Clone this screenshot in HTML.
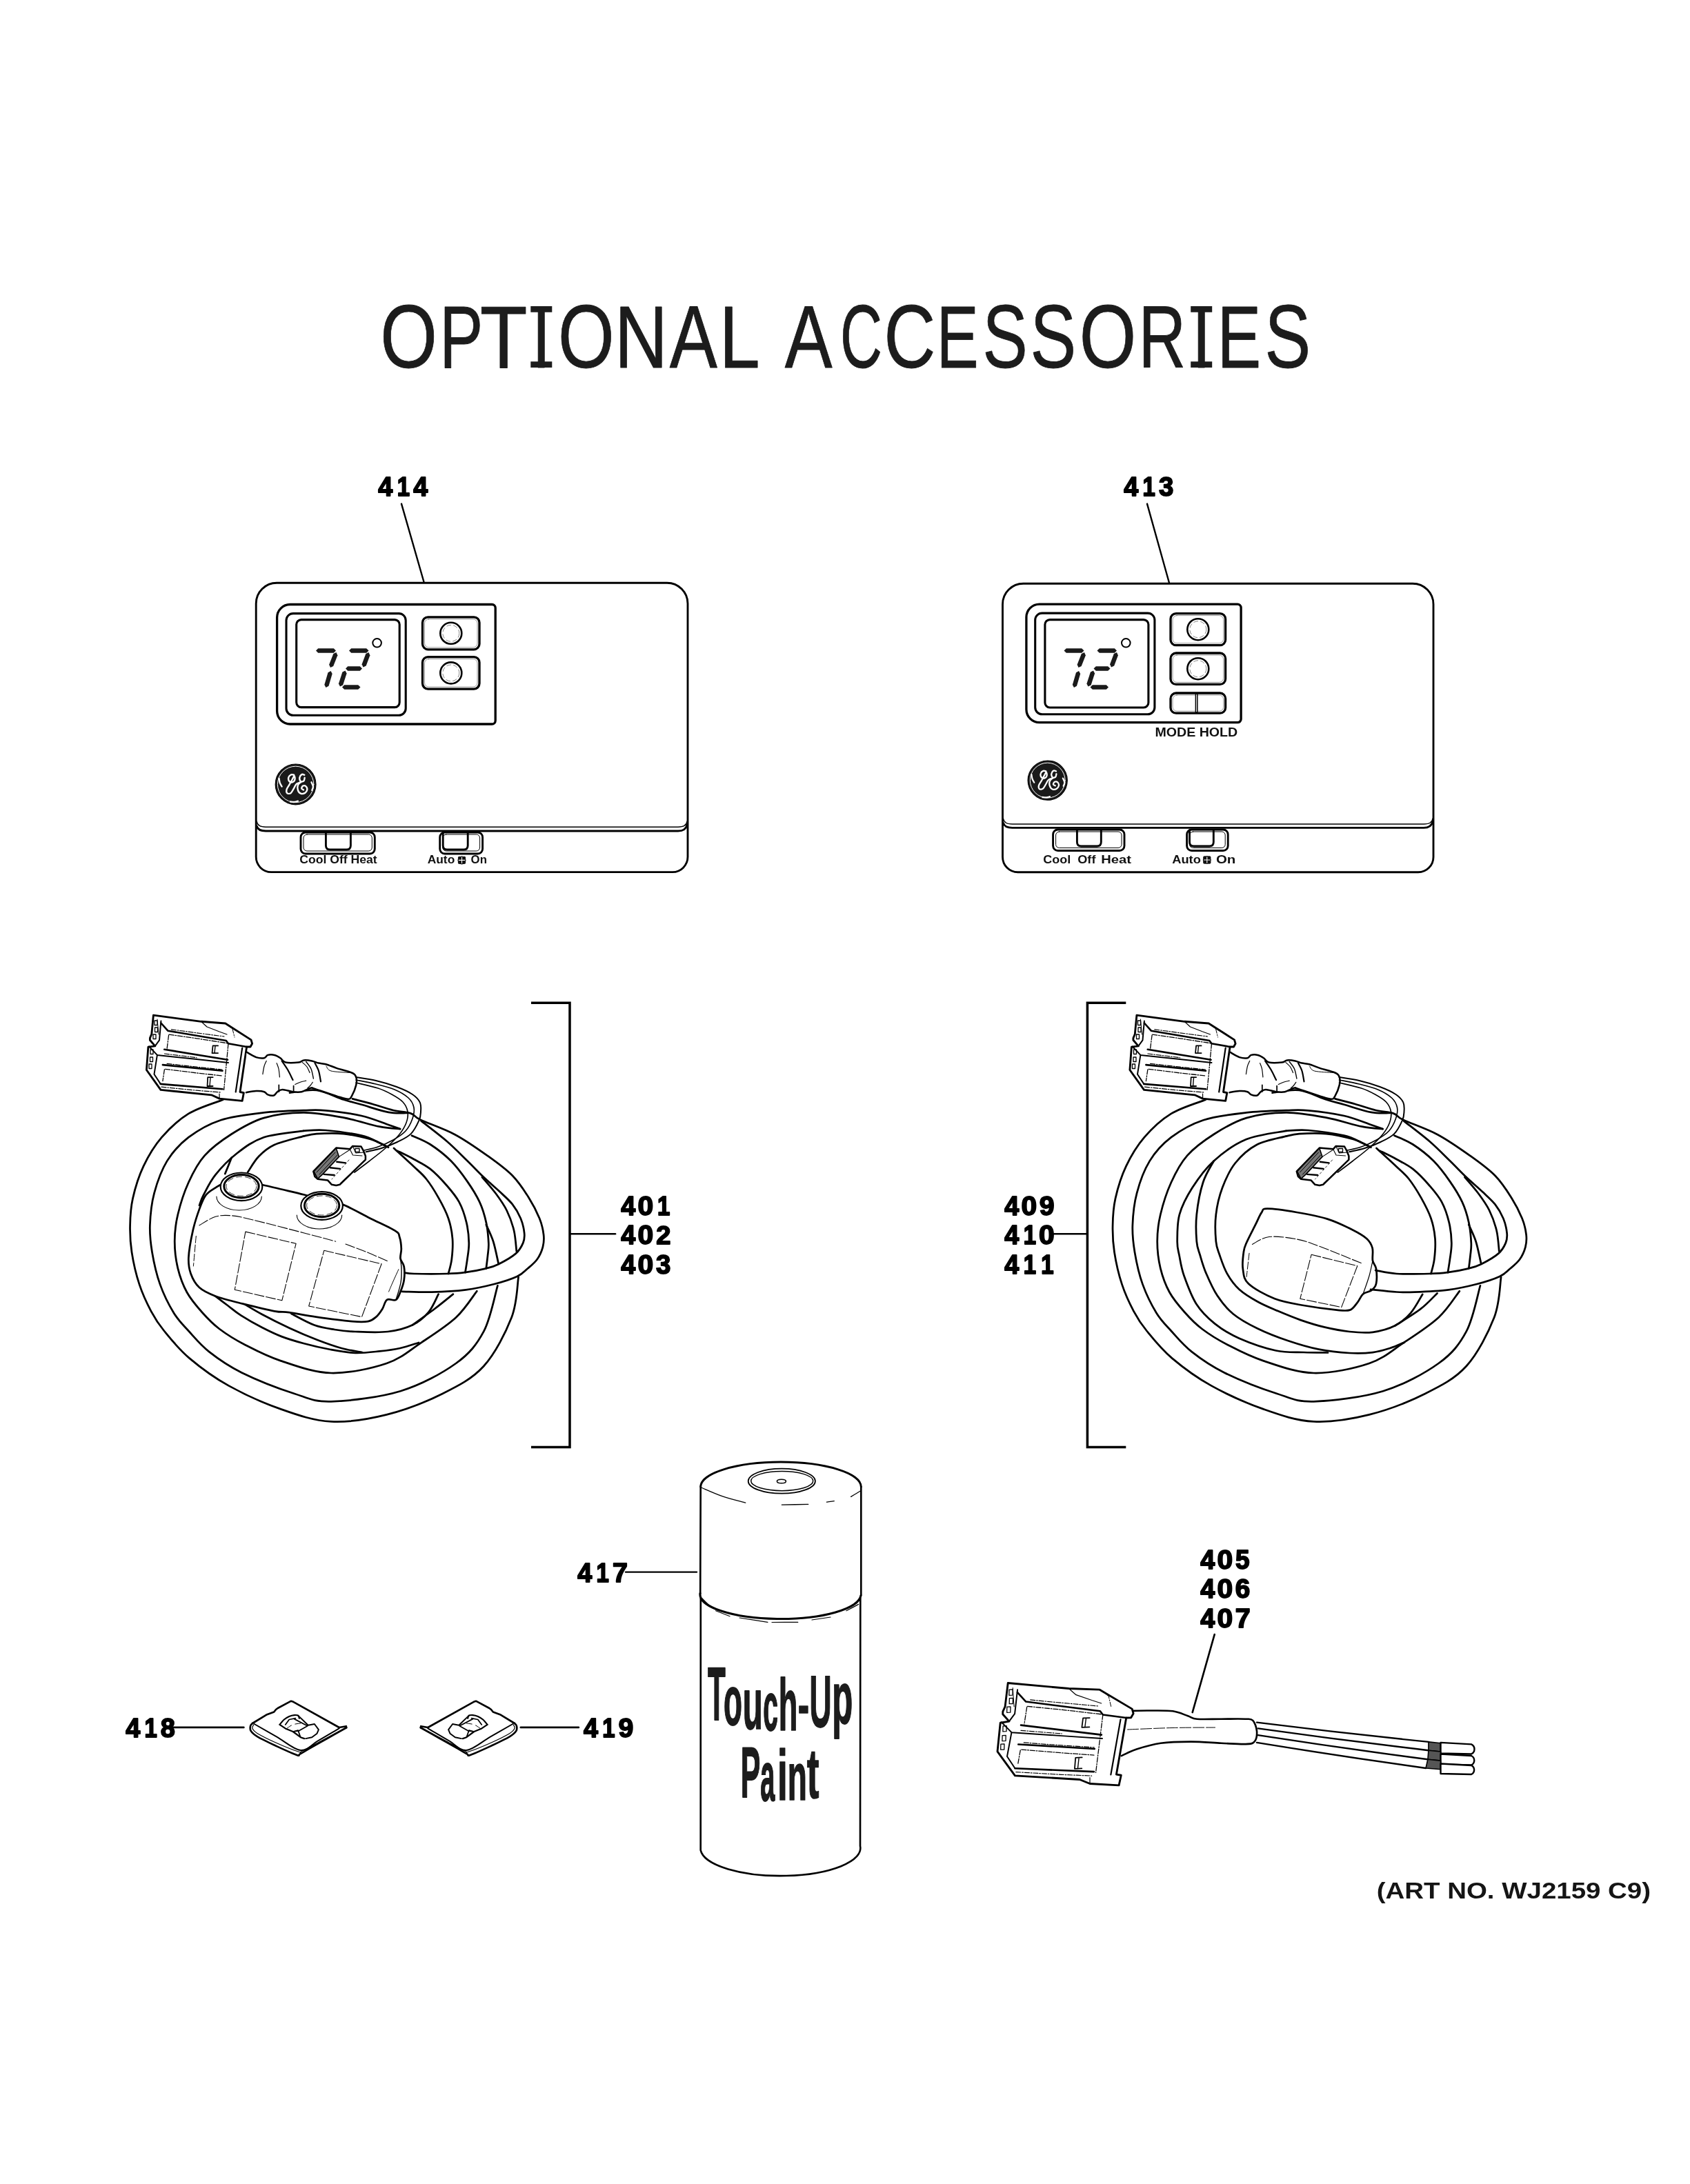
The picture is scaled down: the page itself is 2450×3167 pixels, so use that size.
<!DOCTYPE html>
<html><head><meta charset="utf-8"><style>
html,body{margin:0;padding:0;background:#fff;}
svg{display:block;}
.ns *{vector-effect:non-scaling-stroke;}
text{font-family:"Liberation Sans",sans-serif;}
</style></head><body>
<svg width="2450" height="3167" viewBox="0 0 2450 3167" stroke-linejoin="round" stroke-linecap="round">
<defs><filter id="nolcd" x="-20%" y="-20%" width="140%" height="140%"><feOffset dx="0" dy="0"/></filter></defs>
<rect width="2450" height="3167" fill="#fff"/>
<g aria-label="OPTIONAL ACCESSORIES">
<text font-family="Liberation Sans" font-weight="normal" font-size="2048" fill="#1c1c1c" stroke="#1c1c1c" stroke-width="14.0" stroke-linejoin="round" filter="url(#nolcd)" transform="matrix(0.051860,0,0,0.063034,551.37,532.84)">O</text>
<text font-family="Liberation Sans" font-weight="normal" font-size="2048" fill="#1c1c1c" stroke="#1c1c1c" stroke-width="14.9" stroke-linejoin="round" filter="url(#nolcd)" transform="matrix(0.046147,0,0,0.062598,637.25,532.60)">P</text>
<text font-family="Liberation Sans" font-weight="normal" font-size="2048" fill="#1c1c1c" stroke="#1c1c1c" stroke-width="13.6" stroke-linejoin="round" filter="url(#nolcd)" transform="matrix(0.055009,0,0,0.062598,695.87,532.60)">T</text>
<text font-family="Liberation Sans" font-weight="normal" font-size="2048" fill="#1c1c1c" stroke="#1c1c1c" stroke-width="14.6" stroke-linejoin="round" filter="url(#nolcd)" transform="matrix(0.048168,0,0,0.062598,771.10,532.60)">I</text>
<text font-family="Liberation Sans" font-weight="normal" font-size="2048" fill="#1c1c1c" stroke="#1c1c1c" stroke-width="14.1" stroke-linejoin="round" filter="url(#nolcd)" transform="matrix(0.051216,0,0,0.063034,809.03,532.84)">O</text>
<text font-family="Liberation Sans" font-weight="normal" font-size="2048" fill="#1c1c1c" stroke="#1c1c1c" stroke-width="14.0" stroke-linejoin="round" filter="url(#nolcd)" transform="matrix(0.052010,0,0,0.062598,890.96,532.60)">N</text>
<text font-family="Liberation Sans" font-weight="normal" font-size="2048" fill="#1c1c1c" stroke="#1c1c1c" stroke-width="14.2" stroke-linejoin="round" filter="url(#nolcd)" transform="matrix(0.050589,0,0,0.062598,970.70,532.60)">A</text>
<text font-family="Liberation Sans" font-weight="normal" font-size="2048" fill="#1c1c1c" stroke="#1c1c1c" stroke-width="14.1" stroke-linejoin="round" filter="url(#nolcd)" transform="matrix(0.051717,0,0,0.062598,1042.71,532.60)">L</text>
<text font-family="Liberation Sans" font-weight="normal" font-size="2048" fill="#1c1c1c" stroke="#1c1c1c" stroke-width="14.2" stroke-linejoin="round" filter="url(#nolcd)" transform="matrix(0.050368,0,0,0.062598,1137.70,532.60)">A</text>
<text font-family="Liberation Sans" font-weight="normal" font-size="2048" fill="#1c1c1c" stroke="#1c1c1c" stroke-width="15.7" stroke-linejoin="round" filter="url(#nolcd)" transform="matrix(0.041249,0,0,0.063034,1218.11,532.84)">C</text>
<text font-family="Liberation Sans" font-weight="normal" font-size="2048" fill="#1c1c1c" stroke="#1c1c1c" stroke-width="14.2" stroke-linejoin="round" filter="url(#nolcd)" transform="matrix(0.050578,0,0,0.063034,1281.54,532.84)">C</text>
<text font-family="Liberation Sans" font-weight="normal" font-size="2048" fill="#1c1c1c" stroke="#1c1c1c" stroke-width="15.1" stroke-linejoin="round" filter="url(#nolcd)" transform="matrix(0.044595,0,0,0.062598,1357.81,532.60)">E</text>
<text font-family="Liberation Sans" font-weight="normal" font-size="2048" fill="#1c1c1c" stroke="#1c1c1c" stroke-width="14.6" stroke-linejoin="round" filter="url(#nolcd)" transform="matrix(0.047752,0,0,0.063034,1424.46,532.84)">S</text>
<text font-family="Liberation Sans" font-weight="normal" font-size="2048" fill="#1c1c1c" stroke="#1c1c1c" stroke-width="14.4" stroke-linejoin="round" filter="url(#nolcd)" transform="matrix(0.048770,0,0,0.063034,1493.56,532.84)">S</text>
<text font-family="Liberation Sans" font-weight="normal" font-size="2048" fill="#1c1c1c" stroke="#1c1c1c" stroke-width="14.0" stroke-linejoin="round" filter="url(#nolcd)" transform="matrix(0.051788,0,0,0.063034,1564.68,532.84)">O</text>
<text font-family="Liberation Sans" font-weight="normal" font-size="2048" fill="#1c1c1c" stroke="#1c1c1c" stroke-width="14.8" stroke-linejoin="round" filter="url(#nolcd)" transform="matrix(0.046382,0,0,0.062598,1650.41,532.60)">R</text>
<text font-family="Liberation Sans" font-weight="normal" font-size="2048" fill="#1c1c1c" stroke="#1c1c1c" stroke-width="14.6" stroke-linejoin="round" filter="url(#nolcd)" transform="matrix(0.048168,0,0,0.062598,1728.00,532.60)">I</text>
<text font-family="Liberation Sans" font-weight="normal" font-size="2048" fill="#1c1c1c" stroke="#1c1c1c" stroke-width="14.8" stroke-linejoin="round" filter="url(#nolcd)" transform="matrix(0.046396,0,0,0.062598,1764.71,532.60)">E</text>
<text font-family="Liberation Sans" font-weight="normal" font-size="2048" fill="#1c1c1c" stroke="#1c1c1c" stroke-width="14.4" stroke-linejoin="round" filter="url(#nolcd)" transform="matrix(0.048770,0,0,0.063034,1833.56,532.84)">S</text>
<path d="M769.3,444.0H800.3V452.8H769.3Z M769.3,524.2H800.3V533.0H769.3Z M1726.2,444.0H1757.2V452.8H1726.2Z M1726.2,524.2H1757.2V533.0H1726.2Z" fill="#1c1c1c"/>
</g>
<path d="M401.2,845.3 L967.0,845.3 A30,30 0 0 1 997.0,875.3 L997.0,1242.6 A22,22 0 0 1 975.0,1264.6 L393.2,1264.6 A22,22 0 0 1 371.2,1242.6 L371.2,875.3 A30,30 0 0 1 401.2,845.3Z" fill="none" stroke="#000" stroke-width="2.86" />
<path d="M372.2,1191.2 Q373.2,1199.2 385.2,1199.2 L983.0,1199.2 Q995.0,1199.2 996.0,1191.2" fill="none" stroke="#000" stroke-width="1.40" />
<path d="M372.2,1198.0 Q374.2,1205.0 385.2,1205.0 L983.0,1205.0 Q994.0,1205.0 996.0,1196.0" fill="none" stroke="#000" stroke-width="2.86" />
<path d="M420.6,876.5 L713.2,876.5 A5,5 0 0 1 718.2,881.5 L718.2,1045.0 A5,5 0 0 1 713.2,1050.0 L420.6,1050.0 A19,19 0 0 1 401.6,1031.0 L401.6,895.5 A19,19 0 0 1 420.6,876.5Z" fill="none" stroke="#000" stroke-width="3.30" />
<path d="M425.0,889.6 L578.2,889.6 A10,10 0 0 1 588.2,899.6 L588.2,1027.3 A10,10 0 0 1 578.2,1037.3 L425.0,1037.3 A10,10 0 0 1 415.0,1027.3 L415.0,899.6 A10,10 0 0 1 425.0,889.6Z" fill="none" stroke="#000" stroke-width="3.08" />
<path d="M436.7,898.6 L572.2,898.6 A7,7 0 0 1 579.2,905.6 L579.2,1018.6 A7,7 0 0 1 572.2,1025.6 L436.7,1025.6 A7,7 0 0 1 429.7,1018.6 L429.7,905.6 A7,7 0 0 1 436.7,898.6Z" fill="none" stroke="#000" stroke-width="3.08" />
<path d="M458.0,943.5 L461.2,946.8 L483.8,946.8 L487.0,943.5 L483.8,940.2 L461.2,940.2Z" fill="#1a1a1a"/>
<path d="M487.5,946.0 L483.3,947.9 L477.1,963.8 L479.0,968.0 L483.2,966.1 L489.4,950.2Z" fill="#1a1a1a"/>
<path d="M479.5,973.0 L475.5,975.2 L470.3,993.0 L472.5,997.0 L476.5,994.8 L481.7,977.0Z" fill="#1a1a1a"/>
<path d="M506.0,943.5 L509.2,946.8 L531.2,946.8 L534.5,943.5 L531.2,940.2 L509.2,940.2Z" fill="#1a1a1a"/>
<path d="M534.5,946.0 L530.3,947.9 L524.6,963.3 L526.5,967.5 L530.7,965.6 L536.4,950.2Z" fill="#1a1a1a"/>
<path d="M501.0,969.5 L504.2,972.8 L521.8,972.8 L525.0,969.5 L521.8,966.2 L504.2,966.2Z" fill="#1a1a1a"/>
<path d="M500.5,972.5 L496.4,974.6 L490.9,991.4 L493.0,995.5 L497.1,993.4 L502.6,976.6Z" fill="#1a1a1a"/>
<path d="M496.0,996.5 L499.2,999.8 L519.2,999.8 L522.5,996.5 L519.2,993.2 L499.2,993.2Z" fill="#1a1a1a"/>
<circle cx="546.6" cy="932.3" r="6.3" fill="none" stroke="#000" stroke-width="2"/>
<path d="M620.5,894.8 L687.0,894.8 A8,8 0 0 1 695.0,902.8 L695.0,933.8 A8,8 0 0 1 687.0,941.8 L620.5,941.8 A8,8 0 0 1 612.5,933.8 L612.5,902.8 A8,8 0 0 1 620.5,894.8Z" fill="none" stroke="#000" stroke-width="3.30" />
<path d="M621.5,897.8 L686.0,897.8 A6,6 0 0 1 692.0,903.8 L692.0,932.8 A6,6 0 0 1 686.0,938.8 L621.5,938.8 A6,6 0 0 1 615.5,932.8 L615.5,903.8 A6,6 0 0 1 621.5,897.8Z" fill="none" stroke="#000" stroke-width="0.80" stroke-opacity="0.5"/>
<circle cx="653.8" cy="918.3" r="15.5" fill="none" stroke="#000" stroke-width="2.6"/>
<circle cx="653.8" cy="918.3" r="12" fill="none" stroke="#000" stroke-width="0.8" stroke-dasharray="6 4" stroke-opacity="0.6"/>
<path d="M620.5,952.6 L687.0,952.6 A8,8 0 0 1 695.0,960.6 L695.0,991.1 A8,8 0 0 1 687.0,999.1 L620.5,999.1 A8,8 0 0 1 612.5,991.1 L612.5,960.6 A8,8 0 0 1 620.5,952.6Z" fill="none" stroke="#000" stroke-width="3.30" />
<path d="M621.5,955.6 L686.0,955.6 A6,6 0 0 1 692.0,961.6 L692.0,990.1 A6,6 0 0 1 686.0,996.1 L621.5,996.1 A6,6 0 0 1 615.5,990.1 L615.5,961.6 A6,6 0 0 1 621.5,955.6Z" fill="none" stroke="#000" stroke-width="0.80" stroke-opacity="0.5"/>
<circle cx="653.8" cy="975.9" r="15.5" fill="none" stroke="#000" stroke-width="2.6"/>
<circle cx="653.8" cy="975.9" r="12" fill="none" stroke="#000" stroke-width="0.8" stroke-dasharray="6 4" stroke-opacity="0.6"/>
<circle cx="428.6" cy="1137.4" r="29.4" fill="#1a1a1a" stroke="#000" stroke-width="1.2"/>
<circle cx="428.6" cy="1137.4" r="26.2" fill="none" stroke="#fff" stroke-width="1.0"/>
<path d="M426.2,1123.7 C425.5,1123.7 423.4,1122.8 422.1,1123.3 C420.8,1123.9 418.9,1125.4 418.4,1127.0 C417.9,1128.6 418.3,1131.5 419.2,1132.7 C420.1,1133.9 422.3,1134.7 423.7,1134.3 C425.1,1134.0 426.9,1132.2 427.4,1130.7 C427.9,1129.1 427.2,1125.0 426.6,1124.9 C425.9,1124.9 424.9,1128.1 423.7,1130.3 C422.5,1132.4 421.0,1135.2 419.6,1137.6 C418.3,1140.1 416.1,1142.8 415.5,1145.0 C415.0,1147.1 415.3,1149.4 416.4,1150.3 C417.4,1151.1 420.0,1151.1 421.7,1149.9 C423.3,1148.6 424.8,1145.1 426.2,1142.9 C427.5,1140.7 428.2,1138.2 429.8,1136.8 C431.5,1135.4 434.9,1134.7 436.0,1134.3" fill="none" stroke="#fff" stroke-width="2.4" stroke-linecap="round"/>
<path d="M441.3,1123.7 C440.6,1123.6 438.7,1122.2 437.6,1122.9 C436.4,1123.6 434.6,1126.1 434.3,1127.8 C434.0,1129.5 434.9,1132.4 436.0,1133.1 C437.0,1133.9 439.5,1133.2 440.4,1132.3 C441.4,1131.4 441.5,1128.6 441.7,1127.8" fill="none" stroke="#fff" stroke-width="2.4" stroke-linecap="round"/>
<path d="M436.0,1133.9 C435.3,1134.7 432.5,1136.4 431.9,1138.4 C431.2,1140.4 431.2,1143.7 431.9,1145.8 C432.5,1147.8 434.2,1150.0 436.0,1150.7 C437.7,1151.4 440.5,1150.8 442.1,1149.9 C443.6,1148.9 445.1,1146.6 445.3,1145.0 C445.5,1143.3 444.3,1140.9 443.3,1140.1 C442.3,1139.2 440.2,1139.1 439.2,1139.6 C438.2,1140.2 437.0,1142.4 437.2,1143.3 C437.3,1144.3 439.6,1145.0 440.0,1145.4" fill="none" stroke="#fff" stroke-width="2.4" stroke-linecap="round"/>
<path d="M404.5,1128.6 C404.7,1129.7 405.1,1133.2 405.7,1135.2 C406.4,1137.1 408.1,1139.6 408.6,1140.5" fill="none" stroke="#fff" stroke-width="2.4" stroke-linecap="round"/>
<path d="M451.5,1134.3 C451.9,1135.4 453.8,1138.6 453.9,1140.5 C454.1,1142.4 452.6,1144.9 452.3,1145.8" fill="none" stroke="#fff" stroke-width="2.4" stroke-linecap="round"/>
<path d="M421.2,1162.5 C422.2,1162.6 425.2,1163.1 427.0,1162.9 C428.7,1162.8 431.1,1161.9 431.9,1161.7" fill="none" stroke="#fff" stroke-width="2.4" stroke-linecap="round"/>
<path d="M443.0,1207.0 L536.3,1207.0 A7,7 0 0 1 543.3,1214.0 L543.3,1231.0 A7,7 0 0 1 536.3,1238.0 L443.0,1238.0 A7,7 0 0 1 436.0,1231.0 L436.0,1214.0 A7,7 0 0 1 443.0,1207.0Z" fill="none" stroke="#000" stroke-width="2.86" />
<path d="M445.0,1210.0 L534.3,1210.0 A5,5 0 0 1 539.3,1215.0 L539.3,1229.0 A5,5 0 0 1 534.3,1234.0 L445.0,1234.0 A5,5 0 0 1 440.0,1229.0 L440.0,1215.0 A5,5 0 0 1 445.0,1210.0Z" fill="none" stroke="#000" stroke-width="1.00" />
<path d="M472.4,1208.0 L472.4,1226.0 Q472.4,1232.0 478.4,1232.0 L502.4,1232.0 Q508.4,1232.0 508.4,1226.0 L508.4,1208.0" fill="none" stroke="#000" stroke-width="2.86" />
<path d="M644.7,1207.0 L692.6,1207.0 A7,7 0 0 1 699.6,1214.0 L699.6,1231.0 A7,7 0 0 1 692.6,1238.0 L644.7,1238.0 A7,7 0 0 1 637.7,1231.0 L637.7,1214.0 A7,7 0 0 1 644.7,1207.0Z" fill="none" stroke="#000" stroke-width="2.86" />
<path d="M646.7,1210.0 L690.6,1210.0 A5,5 0 0 1 695.6,1215.0 L695.6,1229.0 A5,5 0 0 1 690.6,1234.0 L646.7,1234.0 A5,5 0 0 1 641.7,1229.0 L641.7,1215.0 A5,5 0 0 1 646.7,1210.0Z" fill="none" stroke="#000" stroke-width="1.00" />
<path d="M642.2,1208.0 L642.2,1226.0 Q642.2,1232.0 648.2,1232.0 L672.2,1232.0 Q678.2,1232.0 678.2,1226.0 L678.2,1208.0" fill="none" stroke="#000" stroke-width="2.86" />
<text font-family="Liberation Sans" font-weight="bold" font-size="2048" fill="#111" style="font-kerning:none;white-space:pre" filter="url(#nolcd)" transform="matrix(0.008609,0,0,0.008375,434.18,1252.40)">Cool Off Heat</text>
<text font-family="Liberation Sans" font-weight="bold" font-size="2048" fill="#111" style="font-kerning:none;white-space:pre" filter="url(#nolcd)" transform="matrix(0.008495,0,0,0.008375,619.67,1252.40)">Auto</text>
<circle cx="669.5" cy="1247.4" r="6.0" fill="#111"/>
<circle cx="672.9" cy="1250.8" r="2.3" fill="#111"/>
<circle cx="666.1" cy="1250.8" r="2.3" fill="#111"/>
<circle cx="666.1" cy="1244.0" r="2.3" fill="#111"/>
<circle cx="672.9" cy="1244.0" r="2.3" fill="#111"/>
<path d="M665.3,1247.4 H673.7 M669.5,1243.2 V1251.6" stroke="#fff" stroke-width="1.1"/>
<text font-family="Liberation Sans" font-weight="bold" font-size="2048" fill="#111" style="font-kerning:none;white-space:pre" filter="url(#nolcd)" transform="matrix(0.008204,0,0,0.008375,682.61,1252.40)">On</text>
<path d="M582.0,730.6 L614.4,843.5" fill="none" stroke="#000" stroke-width="2.42" />
<text font-family="Liberation Sans" font-weight="bold" font-size="2048" fill="#000" stroke="#000" stroke-width="97.3" stroke-linejoin="round" filter="url(#nolcd)" transform="matrix(0.018414,0,0,0.018595,548.33,718.90)">4</text>
<text font-family="Liberation Sans" font-weight="bold" font-size="2048" fill="#000" stroke="#000" stroke-width="104.2" stroke-linejoin="round" filter="url(#nolcd)" transform="matrix(0.016055,0,0,0.018595,575.63,718.90)">1</text>
<text font-family="Liberation Sans" font-weight="bold" font-size="2048" fill="#000" stroke="#000" stroke-width="97.3" stroke-linejoin="round" filter="url(#nolcd)" transform="matrix(0.018414,0,0,0.018595,599.33,718.90)">4</text>
<path d="M1483.5,846.2 L2048.0,846.2 A30,30 0 0 1 2078.0,876.2 L2078.0,1242.8 A22,22 0 0 1 2056.0,1264.8 L1475.5,1264.8 A22,22 0 0 1 1453.5,1242.8 L1453.5,876.2 A30,30 0 0 1 1483.5,846.2Z" fill="none" stroke="#000" stroke-width="2.86" />
<path d="M1454.5,1187.0 Q1455.5,1195.0 1467.5,1195.0 L2064.0,1195.0 Q2076.0,1195.0 2077.0,1187.0" fill="none" stroke="#000" stroke-width="1.40" />
<path d="M1454.5,1193.4 Q1456.5,1200.4 1467.5,1200.4 L2064.0,1200.4 Q2075.0,1200.4 2077.0,1191.4" fill="none" stroke="#000" stroke-width="2.86" />
<path d="M1506.9,876.1 L1794.1,876.1 A5,5 0 0 1 1799.1,881.1 L1799.1,1042.7 A5,5 0 0 1 1794.1,1047.7 L1506.9,1047.7 A19,19 0 0 1 1487.9,1028.7 L1487.9,895.1 A19,19 0 0 1 1506.9,876.1Z" fill="none" stroke="#000" stroke-width="3.30" />
<path d="M1510.7,889.1 L1663.9,889.1 A10,10 0 0 1 1673.9,899.1 L1673.9,1025.8 A10,10 0 0 1 1663.9,1035.8 L1510.7,1035.8 A10,10 0 0 1 1500.7,1025.8 L1500.7,899.1 A10,10 0 0 1 1510.7,889.1Z" fill="none" stroke="#000" stroke-width="3.08" />
<path d="M1521.9,898.6 L1657.9,898.6 A7,7 0 0 1 1664.9,905.6 L1664.9,1019.0 A7,7 0 0 1 1657.9,1026.0 L1521.9,1026.0 A7,7 0 0 1 1514.9,1019.0 L1514.9,905.6 A7,7 0 0 1 1521.9,898.6Z" fill="none" stroke="#000" stroke-width="3.08" />
<path d="M1542.5,943.5 L1545.8,946.8 L1568.2,946.8 L1571.5,943.5 L1568.2,940.2 L1545.8,940.2Z" fill="#1a1a1a"/>
<path d="M1572.0,946.0 L1567.8,947.9 L1561.6,963.8 L1563.5,968.0 L1567.7,966.1 L1573.9,950.2Z" fill="#1a1a1a"/>
<path d="M1564.0,973.0 L1560.0,975.2 L1554.8,993.0 L1557.0,997.0 L1561.0,994.8 L1566.2,977.0Z" fill="#1a1a1a"/>
<path d="M1590.5,943.5 L1593.8,946.8 L1615.8,946.8 L1619.0,943.5 L1615.8,940.2 L1593.8,940.2Z" fill="#1a1a1a"/>
<path d="M1619.0,946.0 L1614.8,947.9 L1609.1,963.3 L1611.0,967.5 L1615.2,965.6 L1620.9,950.2Z" fill="#1a1a1a"/>
<path d="M1585.5,969.5 L1588.8,972.8 L1606.2,972.8 L1609.5,969.5 L1606.2,966.2 L1588.8,966.2Z" fill="#1a1a1a"/>
<path d="M1585.0,972.5 L1580.9,974.6 L1575.4,991.4 L1577.5,995.5 L1581.6,993.4 L1587.1,976.6Z" fill="#1a1a1a"/>
<path d="M1580.5,996.5 L1583.8,999.8 L1603.8,999.8 L1607.0,996.5 L1603.8,993.2 L1583.8,993.2Z" fill="#1a1a1a"/>
<circle cx="1632.3" cy="932.3" r="6.3" fill="none" stroke="#000" stroke-width="2"/>
<path d="M1705.0,889.6 L1768.6,889.6 A8,8 0 0 1 1776.6,897.6 L1776.6,927.7 A8,8 0 0 1 1768.6,935.7 L1705.0,935.7 A8,8 0 0 1 1697.0,927.7 L1697.0,897.6 A8,8 0 0 1 1705.0,889.6Z" fill="none" stroke="#000" stroke-width="3.30" />
<path d="M1706.0,892.6 L1767.6,892.6 A6,6 0 0 1 1773.6,898.6 L1773.6,926.7 A6,6 0 0 1 1767.6,932.7 L1706.0,932.7 A6,6 0 0 1 1700.0,926.7 L1700.0,898.6 A6,6 0 0 1 1706.0,892.6Z" fill="none" stroke="#000" stroke-width="0.80" stroke-opacity="0.5"/>
<circle cx="1736.8" cy="912.7" r="15.5" fill="none" stroke="#000" stroke-width="2.6"/>
<circle cx="1736.8" cy="912.7" r="12" fill="none" stroke="#000" stroke-width="0.8" stroke-dasharray="6 4" stroke-opacity="0.6"/>
<path d="M1705.0,947.0 L1768.6,947.0 A8,8 0 0 1 1776.6,955.0 L1776.6,984.4 A8,8 0 0 1 1768.6,992.4 L1705.0,992.4 A8,8 0 0 1 1697.0,984.4 L1697.0,955.0 A8,8 0 0 1 1705.0,947.0Z" fill="none" stroke="#000" stroke-width="3.30" />
<path d="M1706.0,950.0 L1767.6,950.0 A6,6 0 0 1 1773.6,956.0 L1773.6,983.4 A6,6 0 0 1 1767.6,989.4 L1706.0,989.4 A6,6 0 0 1 1700.0,983.4 L1700.0,956.0 A6,6 0 0 1 1706.0,950.0Z" fill="none" stroke="#000" stroke-width="0.80" stroke-opacity="0.5"/>
<circle cx="1736.8" cy="969.7" r="15.5" fill="none" stroke="#000" stroke-width="2.6"/>
<circle cx="1736.8" cy="969.7" r="12" fill="none" stroke="#000" stroke-width="0.8" stroke-dasharray="6 4" stroke-opacity="0.6"/>
<path d="M1705.0,1005.0 L1768.6,1005.0 A8,8 0 0 1 1776.6,1013.0 L1776.6,1026.2 A8,8 0 0 1 1768.6,1034.2 L1705.0,1034.2 A8,8 0 0 1 1697.0,1026.2 L1697.0,1013.0 A8,8 0 0 1 1705.0,1005.0Z" fill="none" stroke="#000" stroke-width="3.30" />
<path d="M1706.0,1008.0 L1767.6,1008.0 A6,6 0 0 1 1773.6,1014.0 L1773.6,1025.2 A6,6 0 0 1 1767.6,1031.2 L1706.0,1031.2 A6,6 0 0 1 1700.0,1025.2 L1700.0,1014.0 A6,6 0 0 1 1706.0,1008.0Z" fill="none" stroke="#000" stroke-width="0.80" stroke-opacity="0.5"/>
<rect x="1732.6" y="1006.0" width="4" height="27.2" fill="#000"/>
<rect x="1734.1" y="1007.0" width="1" height="25.2" fill="#fff"/>
<text font-family="Liberation Sans" font-weight="bold" font-size="2048" fill="#111" style="font-kerning:none;white-space:pre" filter="url(#nolcd)" transform="matrix(0.009583,0,0,0.008659,1674.39,1067.70)">MODE HOLD</text>
<circle cx="1518.7" cy="1131.6" r="28.6" fill="#1a1a1a" stroke="#000" stroke-width="1.2"/>
<circle cx="1518.7" cy="1131.6" r="25.4" fill="none" stroke="#fff" stroke-width="1.0"/>
<path d="M1516.3,1118.3 C1515.7,1118.2 1513.6,1117.4 1512.3,1117.9 C1511.1,1118.4 1509.2,1119.9 1508.8,1121.5 C1508.3,1123.0 1508.7,1125.8 1509.6,1127.0 C1510.4,1128.2 1512.6,1129.0 1513.9,1128.6 C1515.3,1128.3 1517.0,1126.6 1517.5,1125.0 C1518.0,1123.5 1517.3,1119.6 1516.7,1119.5 C1516.1,1119.4 1515.1,1122.6 1513.9,1124.6 C1512.8,1126.7 1511.3,1129.4 1510.0,1131.8 C1508.6,1134.2 1506.5,1136.9 1506.0,1138.9 C1505.5,1141.0 1505.8,1143.3 1506.8,1144.1 C1507.8,1144.9 1510.4,1144.9 1511.9,1143.7 C1513.5,1142.5 1515.0,1139.1 1516.3,1137.0 C1517.6,1134.8 1518.3,1132.4 1519.9,1131.0 C1521.5,1129.6 1524.9,1129.0 1525.9,1128.6" fill="none" stroke="#fff" stroke-width="2.3" stroke-linecap="round"/>
<path d="M1531.0,1118.3 C1530.4,1118.2 1528.6,1116.8 1527.4,1117.5 C1526.3,1118.2 1524.5,1120.6 1524.3,1122.3 C1524.0,1123.9 1524.9,1126.7 1525.9,1127.4 C1526.8,1128.2 1529.3,1127.5 1530.2,1126.6 C1531.1,1125.8 1531.2,1123.0 1531.4,1122.3" fill="none" stroke="#fff" stroke-width="2.3" stroke-linecap="round"/>
<path d="M1525.9,1128.2 C1525.2,1129.0 1522.5,1130.7 1521.9,1132.6 C1521.2,1134.5 1521.2,1137.8 1521.9,1139.7 C1522.5,1141.7 1524.2,1143.8 1525.9,1144.5 C1527.5,1145.2 1530.3,1144.6 1531.8,1143.7 C1533.3,1142.8 1534.8,1140.5 1535.0,1138.9 C1535.2,1137.4 1534.0,1135.0 1533.0,1134.2 C1532.0,1133.3 1530.0,1133.3 1529.0,1133.8 C1528.0,1134.3 1526.9,1136.4 1527.0,1137.4 C1527.2,1138.3 1529.4,1139.0 1529.8,1139.3" fill="none" stroke="#fff" stroke-width="2.3" stroke-linecap="round"/>
<path d="M1495.3,1123.1 C1495.5,1124.1 1495.8,1127.5 1496.5,1129.4 C1497.1,1131.3 1498.8,1133.7 1499.2,1134.6" fill="none" stroke="#fff" stroke-width="2.3" stroke-linecap="round"/>
<path d="M1540.9,1128.6 C1541.3,1129.6 1543.2,1132.7 1543.3,1134.6 C1543.5,1136.4 1542.0,1138.9 1541.7,1139.7" fill="none" stroke="#fff" stroke-width="2.3" stroke-linecap="round"/>
<path d="M1511.5,1156.0 C1512.5,1156.1 1515.4,1156.6 1517.1,1156.4 C1518.8,1156.3 1521.1,1155.4 1521.9,1155.2" fill="none" stroke="#fff" stroke-width="2.3" stroke-linecap="round"/>
<path d="M1533.6,1203.0 L1623.0,1203.0 A7,7 0 0 1 1630.0,1210.0 L1630.0,1226.5 A7,7 0 0 1 1623.0,1233.5 L1533.6,1233.5 A7,7 0 0 1 1526.6,1226.5 L1526.6,1210.0 A7,7 0 0 1 1533.6,1203.0Z" fill="none" stroke="#000" stroke-width="2.86" />
<path d="M1535.6,1206.0 L1621.0,1206.0 A5,5 0 0 1 1626.0,1211.0 L1626.0,1224.5 A5,5 0 0 1 1621.0,1229.5 L1535.6,1229.5 A5,5 0 0 1 1530.6,1224.5 L1530.6,1211.0 A5,5 0 0 1 1535.6,1206.0Z" fill="none" stroke="#000" stroke-width="1.00" />
<path d="M1561.4,1204.0 L1561.4,1221.0 Q1561.4,1227.0 1567.4,1227.0 L1590.3,1227.0 Q1596.3,1227.0 1596.3,1221.0 L1596.3,1204.0" fill="none" stroke="#000" stroke-width="2.86" />
<path d="M1727.6,1203.0 L1773.2,1203.0 A7,7 0 0 1 1780.2,1210.0 L1780.2,1226.5 A7,7 0 0 1 1773.2,1233.5 L1727.6,1233.5 A7,7 0 0 1 1720.6,1226.5 L1720.6,1210.0 A7,7 0 0 1 1727.6,1203.0Z" fill="none" stroke="#000" stroke-width="2.86" />
<path d="M1729.6,1206.0 L1771.2,1206.0 A5,5 0 0 1 1776.2,1211.0 L1776.2,1224.5 A5,5 0 0 1 1771.2,1229.5 L1729.6,1229.5 A5,5 0 0 1 1724.6,1224.5 L1724.6,1211.0 A5,5 0 0 1 1729.6,1206.0Z" fill="none" stroke="#000" stroke-width="1.00" />
<path d="M1724.5,1204.0 L1724.5,1221.0 Q1724.5,1227.0 1730.5,1227.0 L1753.3,1227.0 Q1759.3,1227.0 1759.3,1221.0 L1759.3,1204.0" fill="none" stroke="#000" stroke-width="2.86" />
<text font-family="Liberation Sans" font-weight="bold" font-size="2048" fill="#111" style="font-kerning:none;white-space:pre" filter="url(#nolcd)" transform="matrix(0.008794,0,0,0.008375,1512.26,1252.00)">Cool</text>
<text font-family="Liberation Sans" font-weight="bold" font-size="2048" fill="#111" style="font-kerning:none;white-space:pre" filter="url(#nolcd)" transform="matrix(0.008863,0,0,0.008375,1562.26,1252.00)">Off</text>
<text font-family="Liberation Sans" font-weight="bold" font-size="2048" fill="#111" style="font-kerning:none;white-space:pre" filter="url(#nolcd)" transform="matrix(0.009867,0,0,0.008375,1596.15,1252.00)">Heat</text>
<text font-family="Liberation Sans" font-weight="bold" font-size="2048" fill="#111" style="font-kerning:none;white-space:pre" filter="url(#nolcd)" transform="matrix(0.008936,0,0,0.008375,1699.24,1252.00)">Auto</text>
<circle cx="1749.8" cy="1247.0" r="6.0" fill="#111"/>
<circle cx="1753.2" cy="1250.4" r="2.3" fill="#111"/>
<circle cx="1746.4" cy="1250.4" r="2.3" fill="#111"/>
<circle cx="1746.4" cy="1243.6" r="2.3" fill="#111"/>
<circle cx="1753.2" cy="1243.6" r="2.3" fill="#111"/>
<path d="M1745.6,1247.0 H1754.0 M1749.8,1242.8 V1251.2" stroke="#fff" stroke-width="1.1"/>
<text font-family="Liberation Sans" font-weight="bold" font-size="2048" fill="#111" style="font-kerning:none;white-space:pre" filter="url(#nolcd)" transform="matrix(0.009989,0,0,0.008375,1762.96,1252.00)">On</text>
<path d="M1663.0,730.6 L1694.8,844.5" fill="none" stroke="#000" stroke-width="2.42" />
<text font-family="Liberation Sans" font-weight="bold" font-size="2048" fill="#000" stroke="#000" stroke-width="97.3" stroke-linejoin="round" filter="url(#nolcd)" transform="matrix(0.018414,0,0,0.018595,1629.23,718.90)">4</text>
<text font-family="Liberation Sans" font-weight="bold" font-size="2048" fill="#000" stroke="#000" stroke-width="104.2" stroke-linejoin="round" filter="url(#nolcd)" transform="matrix(0.016055,0,0,0.018595,1656.53,718.90)">1</text>
<text font-family="Liberation Sans" font-weight="bold" font-size="2048" fill="#000" stroke="#000" stroke-width="95.5" stroke-linejoin="round" filter="url(#nolcd)" transform="matrix(0.018762,0,0,0.018926,1680.12,718.96)">3</text>
<path d="M770,1454.2 L826,1454.2 L826,2098.5 L770,2098.5" fill="none" stroke="#000" stroke-width="3.52" stroke-linecap="butt" stroke-linejoin="miter"/>
<path d="M826.6,1789.3 L892,1789.3" fill="none" stroke="#000" stroke-width="2.64" />
<text font-family="Liberation Sans" font-weight="bold" font-size="2048" fill="#000" stroke="#000" stroke-width="97.3" stroke-linejoin="round" filter="url(#nolcd)" transform="matrix(0.018414,0,0,0.018595,900.13,1761.90)">4</text>
<text font-family="Liberation Sans" font-weight="bold" font-size="2048" fill="#000" stroke="#000" stroke-width="92.6" stroke-linejoin="round" filter="url(#nolcd)" transform="matrix(0.019918,0,0,0.018966,924.39,1762.02)">0</text>
<text font-family="Liberation Sans" font-weight="bold" font-size="2048" fill="#000" stroke="#000" stroke-width="104.2" stroke-linejoin="round" filter="url(#nolcd)" transform="matrix(0.016055,0,0,0.018595,952.93,1761.90)">1</text>
<text font-family="Liberation Sans" font-weight="bold" font-size="2048" fill="#000" stroke="#000" stroke-width="97.3" stroke-linejoin="round" filter="url(#nolcd)" transform="matrix(0.018414,0,0,0.018595,900.13,1803.90)">4</text>
<text font-family="Liberation Sans" font-weight="bold" font-size="2048" fill="#000" stroke="#000" stroke-width="92.6" stroke-linejoin="round" filter="url(#nolcd)" transform="matrix(0.019918,0,0,0.018966,924.39,1804.02)">0</text>
<text font-family="Liberation Sans" font-weight="bold" font-size="2048" fill="#000" stroke="#000" stroke-width="97.6" stroke-linejoin="round" filter="url(#nolcd)" transform="matrix(0.018560,0,0,0.018322,951.28,1803.90)">2</text>
<text font-family="Liberation Sans" font-weight="bold" font-size="2048" fill="#000" stroke="#000" stroke-width="97.3" stroke-linejoin="round" filter="url(#nolcd)" transform="matrix(0.018414,0,0,0.018595,900.13,1846.70)">4</text>
<text font-family="Liberation Sans" font-weight="bold" font-size="2048" fill="#000" stroke="#000" stroke-width="92.6" stroke-linejoin="round" filter="url(#nolcd)" transform="matrix(0.019918,0,0,0.018966,924.39,1846.82)">0</text>
<text font-family="Liberation Sans" font-weight="bold" font-size="2048" fill="#000" stroke="#000" stroke-width="95.5" stroke-linejoin="round" filter="url(#nolcd)" transform="matrix(0.018762,0,0,0.018926,951.02,1846.76)">3</text>
<path d="M1632.3,1454.2 L1576.4,1454.2 L1576.4,2098.5 L1632.3,2098.5" fill="none" stroke="#000" stroke-width="3.52" stroke-linecap="butt" stroke-linejoin="miter"/>
<path d="M1525.8,1789.3 L1576.4,1789.3" fill="none" stroke="#000" stroke-width="2.64" />
<text font-family="Liberation Sans" font-weight="bold" font-size="2048" fill="#000" stroke="#000" stroke-width="97.3" stroke-linejoin="round" filter="url(#nolcd)" transform="matrix(0.018414,0,0,0.018595,1456.33,1761.90)">4</text>
<text font-family="Liberation Sans" font-weight="bold" font-size="2048" fill="#000" stroke="#000" stroke-width="92.6" stroke-linejoin="round" filter="url(#nolcd)" transform="matrix(0.019918,0,0,0.018966,1480.59,1762.02)">0</text>
<text font-family="Liberation Sans" font-weight="bold" font-size="2048" fill="#000" stroke="#000" stroke-width="94.4" stroke-linejoin="round" filter="url(#nolcd)" transform="matrix(0.019153,0,0,0.018966,1506.84,1762.02)">9</text>
<text font-family="Liberation Sans" font-weight="bold" font-size="2048" fill="#000" stroke="#000" stroke-width="97.3" stroke-linejoin="round" filter="url(#nolcd)" transform="matrix(0.018414,0,0,0.018595,1456.33,1803.90)">4</text>
<text font-family="Liberation Sans" font-weight="bold" font-size="2048" fill="#000" stroke="#000" stroke-width="104.2" stroke-linejoin="round" filter="url(#nolcd)" transform="matrix(0.016055,0,0,0.018595,1483.63,1803.90)">1</text>
<text font-family="Liberation Sans" font-weight="bold" font-size="2048" fill="#000" stroke="#000" stroke-width="92.6" stroke-linejoin="round" filter="url(#nolcd)" transform="matrix(0.019918,0,0,0.018966,1506.09,1804.02)">0</text>
<text font-family="Liberation Sans" font-weight="bold" font-size="2048" fill="#000" stroke="#000" stroke-width="97.3" stroke-linejoin="round" filter="url(#nolcd)" transform="matrix(0.018414,0,0,0.018595,1456.33,1846.70)">4</text>
<text font-family="Liberation Sans" font-weight="bold" font-size="2048" fill="#000" stroke="#000" stroke-width="104.2" stroke-linejoin="round" filter="url(#nolcd)" transform="matrix(0.016055,0,0,0.018595,1483.63,1846.70)">1</text>
<text font-family="Liberation Sans" font-weight="bold" font-size="2048" fill="#000" stroke="#000" stroke-width="104.2" stroke-linejoin="round" filter="url(#nolcd)" transform="matrix(0.016055,0,0,0.018595,1509.13,1846.70)">1</text>
<path d="M323.2,1594.7 C314.9,1598.1 288.2,1605.8 273.4,1614.9 C258.6,1624.0 245.4,1636.5 234.5,1649.2 C223.6,1661.9 215.0,1676.4 208.0,1691.2 C201.0,1706.0 195.7,1723.6 192.5,1737.9 C189.3,1752.2 188.8,1763.8 188.6,1776.8 C188.3,1789.8 188.8,1801.4 191.0,1815.7 C193.2,1830.0 197.3,1848.1 202.0,1862.4 C206.7,1876.7 213.0,1890.0 219.0,1901.3 C225.0,1912.6 228.7,1918.6 238.0,1930.0 C247.3,1941.4 259.1,1956.4 274.7,1969.6 C290.3,1982.8 309.4,1997.1 331.5,2009.4 C353.6,2021.7 382.4,2034.7 407.2,2043.4 C431.9,2052.1 454.4,2060.1 480.0,2061.4 C505.6,2062.7 533.7,2058.1 560.5,2051.4 C587.3,2044.7 617.5,2032.9 641.0,2021.2 C664.5,2009.5 684.5,1999.5 701.3,1981.0 C718.1,1962.5 733.2,1932.0 741.6,1910.5 C750.0,1889.0 749.9,1861.8 751.6,1852.0" fill="none" stroke="#000" stroke-width="2.75" />
<path d="M580.0,1637.0 C577.2,1636.0 572.3,1634.2 563.0,1631.0 C553.7,1627.8 539.2,1621.5 524.0,1618.0 C508.8,1614.5 486.0,1611.6 472.0,1610.3 C458.0,1609.0 454.9,1609.7 440.0,1610.2 C425.1,1610.7 402.4,1611.1 382.4,1613.4 C362.4,1615.7 338.3,1618.2 320.1,1624.2 C301.9,1630.2 286.4,1639.3 273.4,1649.2 C260.4,1659.1 250.6,1669.9 242.3,1683.4 C234.0,1696.9 227.8,1714.5 223.6,1730.1 C219.4,1745.7 217.9,1762.5 217.4,1776.8 C216.9,1791.1 218.1,1801.4 220.5,1815.7 C222.9,1830.0 226.8,1847.7 232.0,1862.4 C237.2,1877.1 245.1,1892.7 252.0,1904.0 C258.9,1915.3 264.9,1920.7 273.4,1930.0 C281.9,1939.3 290.3,1950.0 303.1,1960.1 C315.9,1970.2 329.9,1980.3 350.4,1990.4 C370.9,2000.5 404.6,2013.7 426.2,2020.7 C447.8,2027.7 454.3,2032.9 480.0,2032.3 C505.7,2031.7 550.4,2026.4 580.6,2017.2 C610.8,2008.0 640.9,1991.4 661.0,1977.0 C681.1,1962.6 691.2,1949.5 701.3,1930.7 C711.4,1911.9 718.0,1875.4 721.4,1864.3" fill="none" stroke="#000" stroke-width="2.75" />
<path d="M580.0,1637.0 C575.0,1636.5 563.7,1636.4 550.0,1633.7 C536.3,1631.0 516.3,1624.1 498.0,1620.7 C479.7,1617.3 459.3,1613.3 440.0,1613.4 C420.7,1613.5 399.8,1615.9 382.4,1621.1 C365.0,1626.3 350.0,1635.4 335.7,1644.5 C321.4,1653.6 307.1,1663.9 296.7,1675.6 C286.3,1687.3 279.9,1700.2 273.4,1714.5 C266.9,1728.8 261.2,1746.9 257.8,1761.2 C254.4,1775.5 253.2,1787.1 253.2,1800.1 C253.2,1813.1 254.8,1826.8 257.8,1839.1 C260.8,1851.4 265.1,1863.3 271.0,1874.0 C276.9,1884.7 285.2,1894.2 293.0,1903.0 C300.8,1911.8 307.7,1919.2 318.0,1927.0 C328.3,1934.8 340.1,1942.3 355.0,1950.0 C369.9,1957.7 386.4,1966.6 407.2,1973.4 C428.0,1980.2 454.4,1990.4 480.0,1991.0 C505.6,1991.6 538.7,1984.4 560.5,1977.0 C582.3,1969.6 594.0,1957.9 610.8,1946.8 C627.5,1935.7 647.6,1922.9 661.0,1910.5 C674.4,1898.1 686.2,1878.7 691.3,1872.3" fill="none" stroke="#000" stroke-width="2.75" />
<path d="M563.0,1663.7 C560.8,1662.6 556.5,1660.0 550.0,1657.2 C543.5,1654.4 537.0,1649.7 524.0,1646.7 C511.0,1643.7 486.0,1640.2 472.0,1639.0 C458.0,1637.8 445.3,1639.7 440.0,1639.8" fill="none" stroke="#000" stroke-width="2.75" />
<path d="M558.0,1661.1 C554.5,1659.6 547.2,1654.8 537.2,1652.0 C527.2,1649.2 511.1,1645.4 498.1,1644.1 C485.1,1642.8 468.7,1643.5 459.0,1644.1 C449.3,1644.7 443.2,1647.0 440.0,1647.6" fill="none" stroke="#000" stroke-width="2.75" />
<path d="M420.0,1584.6 C426.5,1584.0 446.0,1579.3 459.0,1581.0 C472.0,1582.7 487.2,1591.0 498.1,1594.5 C509.0,1598.0 513.2,1598.7 524.1,1601.8 C535.0,1604.9 552.2,1610.9 563.2,1612.9 C574.2,1614.9 585.5,1613.8 590.0,1614.0" fill="none" stroke="#000" stroke-width="2.75" />
<path d="M699.0,1707.0 C702.3,1711.0 713.1,1723.0 719.0,1731.0 C724.9,1739.0 730.2,1746.2 734.5,1755.0 C738.8,1763.8 742.6,1774.1 745.0,1784.0 C747.4,1793.9 748.2,1809.2 748.8,1814.3" fill="none" stroke="#000" stroke-width="2.75" />
<path d="M704.8,1776.0 C706.5,1780.0 712.0,1790.7 715.0,1800.0 C718.0,1809.3 721.3,1826.7 722.6,1832.0" fill="none" stroke="#000" stroke-width="2.75" />
<path d="M597.0,1646.7 C601.5,1648.8 614.4,1653.4 623.8,1659.5 C633.2,1665.6 644.7,1674.4 653.6,1683.3 C662.5,1692.2 670.5,1703.2 677.4,1713.1 C684.3,1723.0 690.6,1733.0 695.2,1742.9 C699.8,1752.8 702.6,1762.7 704.8,1772.6 C707.0,1782.5 707.9,1794.5 708.3,1802.4 C708.7,1810.3 707.7,1814.1 707.1,1820.2 C706.5,1826.3 705.2,1836.1 704.8,1839.3" fill="none" stroke="#000" stroke-width="2.75" />
<path d="M576.2,1668.9 C580.2,1670.9 592.1,1676.6 600.0,1681.0 C607.9,1685.4 615.9,1688.9 623.8,1695.2 C631.7,1701.5 640.6,1711.0 647.6,1719.0 C654.6,1727.0 660.7,1734.0 665.5,1742.9 C670.3,1751.8 673.8,1762.7 676.2,1772.6 C678.6,1782.5 679.6,1793.5 679.8,1802.4 C680.0,1811.3 678.3,1819.1 677.4,1826.2 C676.5,1833.3 674.9,1842.0 674.4,1845.2" fill="none" stroke="#000" stroke-width="2.75" />
<path d="M571.0,1665.0 C575.8,1669.5 592.2,1684.3 600.0,1691.7 C607.8,1699.1 611.9,1702.0 617.9,1709.5 C623.9,1717.0 630.4,1727.4 635.7,1736.9 C641.1,1746.4 646.6,1756.8 650.0,1766.7 C653.4,1776.6 655.2,1786.5 656.0,1796.4 C656.8,1806.3 655.8,1817.8 654.8,1826.2 C653.8,1834.6 650.8,1843.5 650.0,1847.0" fill="none" stroke="#000" stroke-width="2.75" />
<path d="M440.0,1639.8 C430.4,1641.4 398.5,1643.8 382.4,1649.2 C366.3,1654.7 355.1,1663.4 343.4,1672.5 C331.7,1681.6 320.4,1693.5 312.3,1703.6 C304.2,1713.7 298.9,1725.6 295.0,1733.0 C291.1,1740.4 290.0,1745.5 289.0,1748.0" fill="none" stroke="#000" stroke-width="2.75" />
<path d="M440.0,1647.6 C433.0,1649.7 408.7,1655.1 397.9,1660.0 C387.1,1664.9 381.5,1670.3 375.0,1677.0 C368.5,1683.7 361.7,1696.2 359.0,1700.0" fill="none" stroke="#000" stroke-width="2.75" />
<path d="M335.7,1678.7 C334.1,1682.6 327.9,1698.2 326.3,1702.1" fill="none" stroke="#000" stroke-width="2.75" />
<path d="M311.3,1878.9 C314.4,1881.2 323.7,1888.3 330.0,1893.0 C336.3,1897.7 340.9,1902.0 349.2,1907.3 C357.5,1912.6 370.1,1919.9 380.0,1925.0 C389.9,1930.1 398.3,1934.3 408.3,1938.1 C418.3,1941.9 428.2,1944.8 440.0,1948.0 C451.8,1951.2 466.8,1954.7 479.3,1957.0 C491.8,1959.3 503.0,1961.4 514.9,1961.8 C526.8,1962.2 539.5,1960.5 550.4,1959.4 C561.2,1958.3 570.6,1957.1 580.0,1955.0 C589.4,1952.9 602.5,1948.3 607.0,1947.0" fill="none" stroke="#000" stroke-width="2.75" />
<path d="M353.9,1890.8 C358.2,1893.3 369.0,1900.1 380.0,1906.0 C391.0,1911.9 406.7,1919.8 420.0,1926.0 C433.3,1932.2 447.5,1938.2 460.0,1943.0 C472.5,1947.8 484.2,1952.0 495.0,1955.0 C505.8,1958.0 520.0,1960.0 525.0,1961.0" fill="none" stroke="#000" stroke-width="2.75" />
<path d="M422.5,1905.0 C428.0,1907.8 445.3,1917.7 455.7,1921.5 C466.1,1925.3 475.1,1926.4 485.0,1928.0 C494.9,1929.6 502.0,1930.5 514.9,1931.0 C527.8,1931.5 548.4,1932.6 562.2,1931.0 C576.0,1929.4 587.8,1926.2 597.7,1921.5 C607.6,1916.8 615.1,1910.1 621.4,1902.6 C627.7,1895.1 633.2,1880.9 635.6,1876.6" fill="none" stroke="#000" stroke-width="2.75" />
<path d="M597.7,1921.5 C603.1,1917.6 620.1,1905.5 630.0,1898.0 C639.9,1890.5 652.4,1880.2 656.9,1876.6" fill="none" stroke="#000" stroke-width="2.75" />
<path d="M312.3,1722.3 C307.9,1725.2 302.2,1728.0 298.3,1733.2 C294.4,1738.4 292.1,1744.8 289.0,1753.4 C285.9,1762.0 282.2,1772.9 279.6,1784.6 C277.0,1796.3 273.9,1813.1 273.4,1823.5 C272.9,1833.9 273.9,1839.5 276.5,1846.8 C279.1,1854.1 283.0,1861.6 289.0,1867.1 C295.0,1872.5 301.9,1875.6 312.3,1879.5 C322.7,1883.4 336.9,1886.8 351.2,1890.4 C365.5,1894.0 386.6,1899.2 397.9,1901.3 C409.2,1903.4 409.1,1901.7 419.1,1903.1 C429.1,1904.5 442.9,1907.4 458.1,1909.6 C473.3,1911.8 497.6,1915.0 510.2,1916.1 C522.8,1917.2 527.8,1917.2 533.6,1916.1 C539.5,1915.0 541.8,1912.6 545.3,1909.6 C548.8,1906.6 551.8,1902.0 554.4,1897.9 C557.0,1893.8 557.7,1887.0 561.0,1884.8 C564.3,1882.6 570.8,1886.8 574.0,1884.8 C577.2,1882.8 578.5,1877.9 580.5,1873.1 C582.5,1868.3 584.8,1862.3 585.7,1856.2 C586.6,1850.1 586.6,1841.9 585.7,1836.7 C584.8,1831.5 581.1,1829.3 580.5,1825.0 C579.9,1820.7 582.0,1815.8 581.8,1810.6 C581.6,1805.4 580.7,1798.0 579.2,1793.7 C577.7,1789.4 579.9,1789.1 572.7,1784.6 C565.5,1780.0 549.2,1772.9 536.2,1766.4 C523.2,1759.9 506.3,1750.0 494.6,1745.6 C482.9,1741.2 474.9,1742.2 466.0,1740.0 C457.1,1737.8 450.5,1735.0 441.2,1732.5 C431.9,1730.0 420.2,1727.4 410.0,1725.0 C399.8,1722.6 390.0,1720.2 380.0,1718.0 C370.0,1715.8 359.2,1712.3 350.0,1712.0 C340.8,1711.7 331.3,1714.3 325.0,1716.0 C318.7,1717.7 316.8,1719.4 312.3,1722.3Z" fill="#fff" stroke="#000" stroke-width="2.75" />
<path d="M577.9,1840.6 C576.6,1843.5 572.4,1852.6 570.0,1858.0 C567.6,1863.4 564.6,1870.6 563.5,1873.1" fill="none" stroke="#000" stroke-width="1.00" />
<path d="M580.5,1825.0 C580.8,1827.5 581.9,1834.2 582.0,1840.0 C582.1,1845.8 582.3,1852.5 581.0,1860.0 C579.7,1867.5 575.2,1880.7 574.0,1884.8" fill="none" stroke="#000" stroke-width="1.40" />
<path d="M289.0,1776.8 C292.9,1774.7 304.5,1766.6 312.3,1764.3 C320.1,1762.0 326.6,1762.0 335.7,1762.8 C344.8,1763.6 349.4,1764.8 366.8,1769.0 C384.2,1773.2 420.0,1782.5 440.0,1787.7 C460.0,1792.9 478.9,1798.1 486.7,1800.2" fill="none" stroke="#000" stroke-width="1.10" stroke-dasharray="14 3"/>
<path d="M501.0,1804.1 C505.8,1805.9 519.8,1810.9 530.0,1815.0 C540.2,1819.1 556.8,1826.6 562.2,1828.9" fill="none" stroke="#000" stroke-width="1.10" stroke-dasharray="14 3"/>
<path d="M284.3,1792.4 C283.6,1799.7 281.0,1828.7 280.4,1836.0" fill="none" stroke="#000" stroke-width="1.00" stroke-dasharray="10 3"/>
<path d="M355.9,1786.1 L429.1,1803.3 L408.8,1885.8 L340.3,1870.2Z" fill="none" stroke="#000" stroke-width="1.10" stroke-dasharray="14 3"/>
<path d="M469.8,1813.3 L553.1,1832.8 L524.5,1909.6 L447.7,1894.0Z" fill="none" stroke="#000" stroke-width="1.10" stroke-dasharray="14 3"/>
<path d="M313.9,1735.0 A32.7,20 0 0 0 379.3,1735.0" fill="#fff" stroke="#000" stroke-width="1.1"/>
<ellipse cx="350.0" cy="1720.8" rx="30.3" ry="20.3" fill="#fff" stroke="#000" stroke-width="2.2"/>
<ellipse cx="350.0" cy="1720.3" rx="25.2" ry="16.7" fill="#fff" stroke="#000" stroke-width="3.0"/>
<ellipse cx="350.0" cy="1720.3" rx="22" ry="14" fill="none" stroke="#000" stroke-width="0.8" stroke-dasharray="8 5"/>
<path d="M430.3,1762.0 A32.7,20 0 0 0 495.7,1762.0" fill="#fff" stroke="#000" stroke-width="1.1"/>
<ellipse cx="466.6" cy="1748.5" rx="30.3" ry="20.3" fill="#fff" stroke="#000" stroke-width="2.2"/>
<ellipse cx="466.6" cy="1748.0" rx="25.2" ry="16.7" fill="#fff" stroke="#000" stroke-width="3.0"/>
<ellipse cx="466.6" cy="1748.0" rx="22" ry="14" fill="none" stroke="#000" stroke-width="0.8" stroke-dasharray="8 5"/>
<path d="M511.0,1593.4 C515.8,1594.7 530.2,1598.2 540.0,1601.0 C549.8,1603.8 560.7,1607.7 570.0,1610.0 C579.3,1612.3 589.1,1612.3 595.7,1614.6 C602.3,1616.9 598.9,1618.7 609.5,1623.8 C620.1,1628.9 643.2,1636.5 659.5,1645.2 C675.8,1653.9 693.2,1666.3 707.1,1676.2 C721.0,1686.1 733.0,1694.7 742.9,1704.8 C752.8,1714.9 760.2,1726.6 766.7,1736.9 C773.2,1747.2 778.5,1757.8 782.1,1766.7 C785.7,1775.6 787.3,1783.6 788.1,1790.5 C788.9,1797.4 788.5,1802.3 786.9,1808.3 C785.3,1814.2 782.4,1820.9 778.6,1826.2 C774.8,1831.5 769.1,1835.9 764.3,1840.0 C759.5,1844.1 757.5,1847.3 749.6,1851.0 C741.7,1854.7 729.0,1858.8 716.6,1862.0 C704.2,1865.2 690.5,1868.4 675.4,1870.3 C660.3,1872.2 641.4,1873.2 626.0,1873.6 C610.6,1874.0 590.2,1872.9 583.0,1872.8" fill="none" stroke="#000" stroke-width="2.75" />
<path d="M610.7,1625.6 C616.9,1630.5 636.5,1645.2 647.6,1654.8 C658.7,1664.4 668.5,1674.6 677.4,1683.3 C686.3,1692.0 693.3,1699.5 701.2,1707.1 C709.1,1714.6 718.0,1722.0 725.0,1728.6 C732.0,1735.1 737.9,1740.1 742.9,1746.4 C747.9,1752.8 751.9,1759.8 754.8,1766.7 C757.7,1773.7 759.5,1782.1 760.1,1788.1 C760.7,1794.0 760.4,1797.4 758.3,1802.4 C756.2,1807.4 753.5,1812.8 747.6,1817.9 C741.7,1823.1 729.7,1829.7 722.6,1833.3 C715.5,1836.9 712.9,1837.3 704.8,1839.3 C696.7,1841.3 683.3,1843.9 673.8,1845.2 C664.3,1846.5 659.9,1846.7 647.6,1847.0 C635.3,1847.3 610.2,1847.2 600.0,1847.0 C589.8,1846.8 588.7,1845.8 586.4,1845.6" fill="none" stroke="#000" stroke-width="2.75" />
<path d="M222.4,1472.2 L291.6,1481.3 L326.7,1484.0 L364.0,1507.9 L365.6,1513.3 L363.0,1518.0 L357.6,1518.0 L348.0,1583.5 L353.4,1584.6 L351.2,1596.3 L318.2,1593.1 L306.5,1587.8 L233.0,1580.4 L212.4,1551.5 L214.9,1518.2 L224.8,1516.9 L217.4,1508.3 L217.4,1505.2 L219.8,1499.6Z" fill="#fff" stroke="#000" stroke-width="2.86" />
<path d="M233.4,1483.5 L243.3,1494.7 L327.8,1509.0 L331.0,1513.3 L357.6,1518.0" fill="none" stroke="#000" stroke-width="2.64" />
<path d="M351.2,1519.6 L341.7,1583.5" fill="none" stroke="#000" stroke-width="2.20" />
<path d="M291.6,1481.3 L300.0,1489.0 L318.0,1496.0 L329.0,1500.0" fill="none" stroke="#000" stroke-width="1.20" />
<path d="M326.7,1484.0 L337.0,1492.0 L340.0,1504.0" fill="none" stroke="#000" stroke-width="1.00" stroke-dasharray="7 2 1.5 2"/>
<path d="M233.4,1480.5 L231.0,1508.3 L224.8,1516.9" fill="none" stroke="#000" stroke-width="1.98" />
<path d="M238.3,1521.8 L330.0,1536.7" fill="none" stroke="#000" stroke-width="2.64" />
<path d="M244.6,1500.8 L242.1,1520.6" fill="none" stroke="#000" stroke-width="1.30" stroke-dasharray="7 2 1.5 2"/>
<path d="M245.2,1500.2 L285.0,1505.8 L331.0,1513.0" fill="none" stroke="#000" stroke-width="1.30" stroke-dasharray="7 2 1.5 2"/>
<path d="M248.3,1492.8 L285.0,1497.8 L325.0,1503.0" fill="none" stroke="#000" stroke-width="1.20" stroke-dasharray="7 2 1.5 2"/>
<path d="M216.1,1517.5 L227.9,1529.9 L285.0,1536.1 L331.0,1541.0" fill="none" stroke="#000" stroke-width="1.98" />
<path d="M227.9,1529.9 L223.5,1557.7 L232.8,1571.9" fill="none" stroke="#000" stroke-width="1.98" />
<path d="M235.9,1544.1 L322.5,1552.7" fill="none" stroke="#000" stroke-width="2.64" />
<path d="M232.8,1571.9 L322.5,1579.3" fill="none" stroke="#000" stroke-width="2.64" />
<path d="M238.4,1550.9 L235.9,1567.6" fill="none" stroke="#000" stroke-width="1.30" stroke-dasharray="7 2 1.5 2"/>
<path d="M239.6,1550.3 L285.0,1555.9 L322.0,1560.0" fill="none" stroke="#000" stroke-width="1.30" stroke-dasharray="7 2 1.5 2"/>
<path d="M242.1,1542.3 L285.0,1547.2 L322.0,1551.0" fill="none" stroke="#000" stroke-width="1.20" stroke-dasharray="7 2 1.5 2"/>
<path d="M238.4,1528.0 L285.0,1533.6" fill="none" stroke="#000" stroke-width="1.20" stroke-dasharray="7 2 1.5 2"/>
<path d="M234.0,1576.2 L285.0,1581.2 L320.0,1584.0" fill="none" stroke="#000" stroke-width="1.20" stroke-dasharray="7 2 1.5 2"/>
<path d="M331.0,1513.3 L324.6,1580.4" fill="none" stroke="#000" stroke-width="1.30" stroke-dasharray="7 2 1.5 2"/>
<path d="M318.2,1593.1 L318.0,1586.0" fill="none" stroke="#000" stroke-width="1.20" />
<path d="M316.1,1516.4 L308.6,1516.4 L307.5,1527.1 L316.1,1527.1" fill="none" stroke="#000" stroke-width="1.76" />
<path d="M312.0,1517.0 L311.0,1527.0" fill="none" stroke="#000" stroke-width="1.40" />
<path d="M308.6,1562.2 L301.2,1562.2 L300.5,1575.0 L308.6,1575.0" fill="none" stroke="#000" stroke-width="1.76" />
<path d="M305.0,1563.0 L304.0,1575.0" fill="none" stroke="#000" stroke-width="1.40" />
<rect x="224.0" y="1480.0" width="4" height="6.5" fill="none" stroke="#000" stroke-width="1.3"/>
<rect x="224.5" y="1490.0" width="4" height="6.5" fill="none" stroke="#000" stroke-width="1.3"/>
<rect x="222.0" y="1500.0" width="4" height="6.5" fill="none" stroke="#000" stroke-width="1.3"/>
<rect x="218.0" y="1522.0" width="4" height="6.5" fill="none" stroke="#000" stroke-width="1.3"/>
<rect x="217.5" y="1533.0" width="4" height="6.5" fill="none" stroke="#000" stroke-width="1.3"/>
<rect x="216.0" y="1543.0" width="4" height="6.5" fill="none" stroke="#000" stroke-width="1.3"/>
<path d="M228.0,1478.0 L230.0,1500.0" fill="none" stroke="#000" stroke-width="1.00" />
<path d="M357.5,1525.7 C359.8,1526.9 367.1,1531.7 371.3,1533.1 C375.6,1534.5 380.2,1534.7 383.0,1534.2 C385.8,1533.7 385.8,1530.6 388.3,1529.9 C390.8,1529.2 394.9,1529.2 397.9,1529.9 C400.9,1530.6 403.7,1532.4 406.4,1534.2 C409.1,1536.0 409.4,1539.5 413.9,1540.6 C418.3,1541.7 428.7,1541.1 433.1,1540.6 C437.5,1540.1 437.3,1537.8 440.5,1537.4 C443.7,1537.0 448.6,1537.7 452.2,1538.4 C455.8,1539.1 458.4,1540.8 461.8,1541.6 C465.2,1542.4 468.1,1542.0 472.5,1543.2 C476.9,1544.5 482.3,1547.0 488.5,1549.1 C494.7,1551.1 505.2,1553.4 509.8,1555.5 C514.4,1557.6 515.1,1558.9 516.2,1561.9 C517.3,1564.9 517.3,1569.0 516.2,1573.6 C515.1,1578.2 511.8,1586.2 509.8,1589.6 C507.8,1593.0 507.9,1593.8 504.4,1593.8 C500.8,1593.8 496.5,1592.1 488.5,1589.6 C480.5,1587.1 462.9,1580.9 456.5,1578.9 C450.1,1576.9 453.3,1577.1 450.1,1577.8 C446.9,1578.5 441.6,1582.3 437.3,1583.2 C433.1,1584.1 429.2,1583.7 424.6,1583.2 C420.0,1582.7 413.3,1580.0 409.6,1580.0 C405.9,1580.0 404.3,1581.8 402.2,1583.2 C400.1,1584.6 399.2,1587.8 396.9,1588.5 C394.6,1589.2 390.6,1588.3 388.3,1587.4 C386.0,1586.5 385.8,1584.1 383.0,1583.2 C380.2,1582.3 375.6,1581.9 371.3,1582.1 C367.0,1582.3 359.4,1583.8 357.0,1584.2" fill="#fff" stroke="#000" stroke-width="2.53" />
<path d="M380.9,1557.6 C381.2,1555.7 382.1,1549.2 383.0,1546.0 C383.9,1542.8 385.7,1539.7 386.2,1538.4" fill="none" stroke="#000" stroke-width="1.20" />
<path d="M401.1,1541.6 C401.6,1543.0 403.3,1546.6 404.0,1550.0 C404.7,1553.4 405.2,1559.9 405.4,1561.9" fill="none" stroke="#000" stroke-width="1.20" />
<path d="M408.6,1538.4 C410.0,1540.5 414.3,1546.4 417.0,1551.0 C419.7,1555.6 423.3,1563.6 424.6,1566.1" fill="none" stroke="#000" stroke-width="2.20" />
<path d="M438.4,1540.6 C439.5,1541.7 443.2,1544.5 445.0,1547.0 C446.8,1549.5 448.3,1554.1 449.0,1555.5" fill="none" stroke="#000" stroke-width="1.20" />
<path d="M443.7,1539.5 C444.9,1541.2 449.2,1545.9 451.0,1550.0 C452.8,1554.1 453.8,1561.7 454.4,1564.0" fill="none" stroke="#000" stroke-width="1.40" />
<path d="M456.5,1541.6 C457.4,1543.5 460.6,1548.5 462.0,1553.0 C463.4,1557.5 464.5,1565.8 465.0,1568.3" fill="none" stroke="#000" stroke-width="2.20" />
<path d="M453.3,1569.3 C452.8,1570.1 451.2,1572.6 450.0,1574.0 C448.8,1575.4 446.6,1577.2 445.9,1577.8" fill="none" stroke="#000" stroke-width="1.20" />
<path d="M427.8,1572.5 C429.2,1571.9 433.4,1569.9 436.0,1569.0 C438.6,1568.1 442.4,1567.5 443.7,1567.2" fill="none" stroke="#000" stroke-width="1.20" />
<path d="M473.0,1546.0 C474.2,1547.2 474.3,1551.4 480.0,1553.0 C485.7,1554.6 502.5,1555.1 507.0,1555.5" fill="none" stroke="#000" stroke-width="1.00" />
<path d="M404.3,1573.5 L404.3,1583.0" fill="none" stroke="#000" stroke-width="1.76" />
<path d="M425.6,1574.6 L425.6,1582.0" fill="none" stroke="#000" stroke-width="1.76" />
<path d="M516.0,1562.0 C520.8,1562.8 535.2,1564.7 545.0,1567.0 C554.8,1569.3 566.2,1572.7 575.0,1576.0 C583.8,1579.3 592.4,1583.2 598.0,1587.0 C603.6,1590.8 606.8,1594.4 608.8,1598.6 C610.8,1602.8 610.2,1607.7 610.0,1612.0 C609.8,1616.3 609.9,1619.2 607.5,1624.6 C605.1,1629.9 601.0,1638.9 595.7,1644.1 C590.5,1649.3 583.1,1652.5 576.0,1656.0 C568.9,1659.5 560.6,1662.6 553.0,1665.0 C545.4,1667.4 534.3,1669.3 530.6,1670.2" fill="none" stroke="#000" stroke-width="1.98" />
<path d="M516.0,1566.0 C520.8,1567.0 535.7,1569.7 545.0,1572.0 C554.3,1574.3 564.2,1576.7 572.0,1580.0 C579.8,1583.3 587.3,1587.7 592.0,1592.0 C596.7,1596.3 599.0,1601.0 600.0,1606.0 C601.0,1611.0 600.0,1616.3 598.0,1622.0 C596.0,1627.7 592.7,1634.8 588.0,1640.0 C583.3,1645.2 576.7,1649.2 570.0,1653.0 C563.3,1656.8 555.0,1660.5 548.0,1663.0 C541.0,1665.5 531.3,1667.2 528.0,1668.0" fill="none" stroke="#000" stroke-width="1.65" />
<path d="M516.0,1570.0 C521.3,1571.3 539.3,1575.2 548.0,1578.0 C556.7,1580.8 562.0,1583.7 568.0,1587.0 C574.0,1590.3 580.2,1593.8 584.0,1598.0 C587.8,1602.2 590.2,1607.0 591.0,1612.0 C591.8,1617.0 591.0,1622.5 589.0,1628.0 C587.0,1633.5 583.8,1639.0 579.0,1645.0 C574.2,1651.0 567.3,1657.5 560.0,1664.0 C552.7,1670.5 542.7,1678.0 535.0,1684.0 C527.3,1690.0 517.2,1697.4 513.7,1700.1" fill="none" stroke="#000" stroke-width="1.65" />
<path d="M454.3,1698.7 L487.3,1664.6 L507.5,1666.2 L511.2,1661.9 L523.5,1662.5 L526.7,1668.3 L529.9,1676.3 L529.9,1681.6 L492.6,1717.8 L487.3,1718.9 L480.9,1717.8 L475.0,1711.4 L460.6,1709.8 L456.4,1706.1Z" fill="#fff" stroke="#000" stroke-width="2.53" />
<path d="M455.0,1698.7 L487.3,1665.0 L491.5,1677.4 L467.6,1702.9 L460.6,1709.3Z" fill="#777" stroke="#000" stroke-width="1.6"/>
<path d="M459.0,1700.0 L486.0,1671.0" fill="none" stroke="#000" stroke-width="1.00" />
<path d="M463.0,1703.0 L489.0,1675.0" fill="none" stroke="#000" stroke-width="1.00" />
<path d="M491.5,1677.4 L507.5,1667.0 L511.5,1675.0 L525.0,1676.0" fill="none" stroke="#000" stroke-width="1.10" />
<path d="M511.2,1661.9 L516.0,1672.0 L528.0,1671.0" fill="none" stroke="#000" stroke-width="1.10" />
<rect x="515.0" y="1665.5" width="6" height="5" fill="none" stroke="#000" stroke-width="1.4"/>
<path d="M488.3,1684.8 L501.1,1686.4" fill="none" stroke="#000" stroke-width="2.42" />
<path d="M478.8,1693.3 L493.1,1694.9" fill="none" stroke="#000" stroke-width="2.42" />
<path d="M469.7,1702.9 L484.6,1704.0" fill="none" stroke="#000" stroke-width="2.42" />
<path d="M525.0,1686.0 L493.0,1716.0" fill="none" stroke="#000" stroke-width="1.00" />
<path d="M506.0,1682.0 L481.0,1710.0" fill="none" stroke="#000" stroke-width="0.80" stroke-dasharray="3 3"/>
<path d="M1747.7,1594.7 C1739.4,1598.1 1712.7,1605.8 1697.9,1614.9 C1683.1,1624.0 1669.9,1636.5 1659.0,1649.2 C1648.1,1661.9 1639.5,1676.4 1632.5,1691.2 C1625.5,1706.0 1620.2,1723.6 1617.0,1737.9 C1613.8,1752.2 1613.3,1763.8 1613.1,1776.8 C1612.8,1789.8 1613.3,1801.4 1615.5,1815.7 C1617.7,1830.0 1621.8,1848.1 1626.5,1862.4 C1631.2,1876.7 1637.5,1890.0 1643.5,1901.3 C1649.5,1912.6 1653.2,1918.6 1662.5,1930.0 C1671.8,1941.4 1683.6,1956.4 1699.2,1969.6 C1714.8,1982.8 1733.9,1997.1 1756.0,2009.4 C1778.1,2021.7 1807.0,2034.7 1831.7,2043.4 C1856.5,2052.1 1879.0,2060.1 1904.5,2061.4 C1930.0,2062.7 1958.2,2058.1 1985.0,2051.4 C2011.8,2044.7 2042.0,2032.9 2065.5,2021.2 C2089.0,2009.5 2109.0,1999.5 2125.8,1981.0 C2142.6,1962.5 2157.7,1932.0 2166.1,1910.5 C2174.5,1889.0 2174.4,1861.8 2176.1,1852.0" fill="none" stroke="#000" stroke-width="2.75" />
<path d="M2004.5,1637.0 C2001.7,1636.0 1996.8,1634.2 1987.5,1631.0 C1978.2,1627.8 1963.7,1621.5 1948.5,1618.0 C1933.3,1614.5 1910.5,1611.6 1896.5,1610.3 C1882.5,1609.0 1879.4,1609.7 1864.5,1610.2 C1849.6,1610.7 1826.9,1611.1 1806.9,1613.4 C1786.9,1615.7 1762.8,1618.2 1744.6,1624.2 C1726.4,1630.2 1710.9,1639.3 1697.9,1649.2 C1684.9,1659.1 1675.1,1669.9 1666.8,1683.4 C1658.5,1696.9 1652.2,1714.5 1648.1,1730.1 C1643.9,1745.7 1642.4,1762.5 1641.9,1776.8 C1641.4,1791.1 1642.6,1801.4 1645.0,1815.7 C1647.4,1830.0 1651.2,1847.7 1656.5,1862.4 C1661.8,1877.1 1669.6,1892.7 1676.5,1904.0 C1683.4,1915.3 1689.4,1920.7 1697.9,1930.0 C1706.4,1939.3 1714.8,1950.0 1727.6,1960.1 C1740.4,1970.2 1754.4,1980.3 1774.9,1990.4 C1795.4,2000.5 1829.1,2013.7 1850.7,2020.7 C1872.3,2027.7 1878.8,2032.9 1904.5,2032.3 C1930.2,2031.7 1974.9,2026.4 2005.1,2017.2 C2035.3,2008.0 2065.4,1991.4 2085.5,1977.0 C2105.6,1962.6 2115.7,1949.5 2125.8,1930.7 C2135.9,1911.9 2142.6,1875.4 2145.9,1864.3" fill="none" stroke="#000" stroke-width="2.75" />
<path d="M2004.5,1637.0 C1999.5,1636.5 1988.2,1636.4 1974.5,1633.7 C1960.8,1631.0 1940.8,1624.1 1922.5,1620.7 C1904.2,1617.3 1883.8,1613.3 1864.5,1613.4 C1845.2,1613.5 1824.3,1615.9 1806.9,1621.1 C1789.5,1626.3 1774.5,1635.4 1760.2,1644.5 C1745.9,1653.6 1731.6,1663.9 1721.2,1675.6 C1710.8,1687.3 1704.4,1700.2 1697.9,1714.5 C1691.4,1728.8 1685.7,1746.9 1682.3,1761.2 C1678.9,1775.5 1677.7,1787.1 1677.7,1800.1 C1677.7,1813.1 1679.3,1826.8 1682.3,1839.1 C1685.3,1851.4 1689.6,1863.3 1695.5,1874.0 C1701.4,1884.7 1709.7,1894.2 1717.5,1903.0 C1725.3,1911.8 1732.2,1919.2 1742.5,1927.0 C1752.8,1934.8 1764.6,1942.3 1779.5,1950.0 C1794.4,1957.7 1810.9,1966.6 1831.7,1973.4 C1852.5,1980.2 1879.0,1990.4 1904.5,1991.0 C1930.0,1991.6 1963.2,1984.4 1985.0,1977.0 C2006.8,1969.6 2018.5,1957.9 2035.3,1946.8 C2052.1,1935.7 2072.1,1922.9 2085.5,1910.5 C2098.9,1898.1 2110.8,1878.7 2115.8,1872.3" fill="none" stroke="#000" stroke-width="2.75" />
<path d="M1987.5,1663.7 C1985.3,1662.6 1981.0,1660.0 1974.5,1657.2 C1968.0,1654.4 1961.5,1649.7 1948.5,1646.7 C1935.5,1643.7 1910.5,1640.2 1896.5,1639.0 C1882.5,1637.8 1869.8,1639.7 1864.5,1639.8" fill="none" stroke="#000" stroke-width="2.75" />
<path d="M1982.5,1661.1 C1979.0,1659.6 1971.7,1654.8 1961.7,1652.0 C1951.7,1649.2 1935.6,1645.4 1922.6,1644.1 C1909.6,1642.8 1893.2,1643.5 1883.5,1644.1 C1873.8,1644.7 1867.7,1647.0 1864.5,1647.6" fill="none" stroke="#000" stroke-width="2.75" />
<path d="M1844.5,1584.6 C1851.0,1584.0 1870.5,1579.3 1883.5,1581.0 C1896.5,1582.7 1911.8,1591.0 1922.6,1594.5 C1933.4,1598.0 1937.8,1598.7 1948.6,1601.8 C1959.4,1604.9 1976.7,1610.9 1987.7,1612.9 C1998.7,1614.9 2010.0,1613.8 2014.5,1614.0" fill="none" stroke="#000" stroke-width="2.75" />
<path d="M2123.5,1707.0 C2126.8,1711.0 2137.6,1723.0 2143.5,1731.0 C2149.4,1739.0 2154.7,1746.2 2159.0,1755.0 C2163.3,1763.8 2167.1,1774.1 2169.5,1784.0 C2171.9,1793.9 2172.7,1809.2 2173.3,1814.3" fill="none" stroke="#000" stroke-width="2.75" />
<path d="M2129.3,1776.0 C2131.0,1780.0 2136.5,1790.7 2139.5,1800.0 C2142.5,1809.3 2145.8,1826.7 2147.1,1832.0" fill="none" stroke="#000" stroke-width="2.75" />
<path d="M2021.5,1646.7 C2026.0,1648.8 2038.9,1653.4 2048.3,1659.5 C2057.7,1665.6 2069.2,1674.4 2078.1,1683.3 C2087.0,1692.2 2095.0,1703.2 2101.9,1713.1 C2108.8,1723.0 2115.1,1733.0 2119.7,1742.9 C2124.3,1752.8 2127.1,1762.7 2129.3,1772.6 C2131.5,1782.5 2132.4,1794.5 2132.8,1802.4 C2133.2,1810.3 2132.2,1814.1 2131.6,1820.2 C2131.0,1826.3 2129.7,1836.1 2129.3,1839.3" fill="none" stroke="#000" stroke-width="2.75" />
<path d="M2000.7,1668.9 C2004.7,1670.9 2016.6,1676.6 2024.5,1681.0 C2032.4,1685.4 2040.4,1688.9 2048.3,1695.2 C2056.2,1701.5 2065.2,1711.0 2072.1,1719.0 C2079.0,1727.0 2085.2,1734.0 2090.0,1742.9 C2094.8,1751.8 2098.3,1762.7 2100.7,1772.6 C2103.1,1782.5 2104.1,1793.5 2104.3,1802.4 C2104.5,1811.3 2102.8,1819.1 2101.9,1826.2 C2101.0,1833.3 2099.4,1842.0 2098.9,1845.2" fill="none" stroke="#000" stroke-width="2.75" />
<path d="M1995.5,1665.0 C2000.3,1669.5 2016.7,1684.3 2024.5,1691.7 C2032.3,1699.1 2036.5,1702.0 2042.4,1709.5 C2048.3,1717.0 2054.8,1727.4 2060.2,1736.9 C2065.5,1746.4 2071.1,1756.8 2074.5,1766.7 C2077.9,1776.6 2079.7,1786.5 2080.5,1796.4 C2081.3,1806.3 2080.3,1817.8 2079.3,1826.2 C2078.3,1834.6 2075.3,1843.5 2074.5,1847.0" fill="none" stroke="#000" stroke-width="2.75" />
<path d="M1864.5,1639.8 C1854.8,1641.9 1823.9,1645.0 1806.4,1652.3 C1788.9,1659.6 1772.7,1671.7 1759.7,1683.4 C1746.7,1695.1 1736.8,1709.3 1728.5,1722.3 C1720.2,1735.3 1713.5,1748.2 1709.9,1761.2 C1706.3,1774.2 1706.8,1790.3 1706.7,1800.1 C1706.6,1809.9 1707.8,1811.7 1709.5,1820.0 C1711.2,1828.3 1712.4,1838.4 1716.6,1850.2 C1720.8,1862.0 1727.0,1879.5 1734.4,1891.0 C1741.8,1902.5 1750.7,1911.1 1761.0,1919.4 C1771.3,1927.7 1781.7,1934.2 1796.5,1940.7 C1811.3,1947.2 1834.2,1955.1 1849.8,1958.5 C1865.4,1961.9 1877.5,1960.5 1890.0,1961.0 C1902.5,1961.5 1919.2,1961.4 1925.0,1961.5" fill="none" stroke="#000" stroke-width="2.75" />
<path d="M1759.7,1683.4 C1757.1,1688.6 1748.2,1701.5 1744.1,1714.5 C1739.9,1727.5 1736.3,1746.9 1734.8,1761.2 C1733.2,1775.5 1734.0,1790.3 1734.8,1800.1 C1735.6,1809.9 1737.4,1812.2 1739.7,1820.0 C1742.0,1827.8 1744.4,1836.8 1748.6,1846.6 C1752.8,1856.4 1758.1,1868.8 1764.6,1878.6 C1771.1,1888.4 1777.8,1897.2 1787.6,1905.2 C1797.3,1913.2 1809.8,1920.0 1823.1,1926.5 C1836.4,1933.0 1852.7,1939.3 1867.5,1944.3 C1882.3,1949.3 1897.1,1953.8 1911.9,1956.7 C1926.7,1959.7 1943.3,1961.3 1956.3,1962.0 C1969.3,1962.7 1980.2,1962.3 1990.0,1961.1 C1999.8,1959.9 2007.3,1957.4 2015.0,1955.0 C2022.7,1952.6 2032.5,1947.9 2036.0,1946.5" fill="none" stroke="#000" stroke-width="2.75" />
<path d="M1864.5,1647.6 C1857.4,1649.7 1834.2,1653.5 1821.9,1660.0 C1809.6,1666.5 1799.1,1676.1 1790.8,1686.5 C1782.5,1696.9 1776.8,1709.8 1772.1,1722.3 C1767.4,1734.8 1764.3,1748.2 1762.8,1761.2 C1761.2,1774.2 1761.9,1790.3 1762.8,1800.1 C1763.7,1809.9 1765.4,1812.2 1768.1,1820.0 C1770.8,1827.8 1774.1,1838.3 1778.8,1846.6 C1783.5,1854.9 1789.1,1862.9 1796.5,1869.7 C1803.9,1876.5 1814.2,1882.5 1823.1,1887.5 C1832.0,1892.5 1839.4,1895.5 1849.8,1899.9 C1860.2,1904.3 1873.5,1910.0 1885.3,1914.1 C1897.1,1918.2 1909.0,1921.9 1920.8,1924.7 C1932.6,1927.5 1944.8,1929.8 1956.3,1931.0 C1967.8,1932.2 1979.0,1933.2 1990.0,1931.8 C2001.0,1930.3 2013.3,1927.0 2022.5,1922.3 C2031.7,1917.6 2038.6,1911.4 2045.2,1903.8 C2051.8,1896.2 2059.4,1881.4 2062.2,1876.9" fill="none" stroke="#000" stroke-width="2.75" />
<path d="M2022.5,1922.3 C2028.7,1918.3 2049.2,1906.0 2059.4,1898.2 C2069.6,1890.4 2079.5,1879.2 2083.5,1875.4" fill="none" stroke="#000" stroke-width="2.75" />
<path d="M1837.2,1752.7 C1845.7,1752.7 1865.5,1755.5 1880.0,1758.0 C1894.5,1760.5 1911.0,1763.4 1924.3,1767.6 C1937.6,1771.8 1950.5,1778.2 1960.0,1783.0 C1969.5,1787.8 1976.5,1791.7 1981.4,1796.2 C1986.3,1800.7 1988.2,1804.5 1989.6,1809.8 C1991.0,1815.1 1989.1,1823.0 1990.0,1828.0 C1990.9,1833.0 1994.2,1834.2 1995.0,1839.8 C1995.8,1845.4 1996.1,1856.3 1995.0,1861.5 C1993.9,1866.7 1991.4,1868.6 1988.2,1871.1 C1985.0,1873.6 1979.4,1873.5 1976.0,1876.5 C1972.6,1879.5 1971.0,1885.0 1967.8,1888.8 C1964.6,1892.6 1962.0,1897.8 1957.0,1899.6 C1952.0,1901.4 1949.1,1900.7 1937.9,1899.6 C1926.7,1898.5 1905.0,1895.7 1890.0,1893.0 C1875.0,1890.3 1861.3,1888.5 1848.0,1883.3 C1834.7,1878.0 1817.7,1868.8 1810.0,1861.5 C1802.3,1854.2 1803.0,1847.5 1801.8,1839.8 C1800.6,1832.0 1802.1,1821.3 1803.0,1815.0 C1803.9,1808.7 1804.2,1808.5 1807.2,1801.7 C1810.2,1794.9 1817.2,1781.7 1820.8,1774.4 C1824.4,1767.1 1826.3,1761.7 1829.0,1758.1 C1831.7,1754.5 1828.7,1752.7 1837.2,1752.7Z" fill="#fff" stroke="#000" stroke-width="2.75" />
<path d="M1990.0,1828.0 C1989.2,1831.7 1987.3,1841.9 1985.0,1850.0 C1982.7,1858.1 1977.5,1872.1 1976.0,1876.5" fill="none" stroke="#000" stroke-width="1.20" />
<path d="M1815.4,1804.4 C1819.5,1802.6 1829.1,1794.7 1839.9,1793.5 C1850.7,1792.3 1867.3,1794.5 1880.0,1797.0 C1892.7,1799.5 1900.6,1802.7 1916.1,1808.5 C1931.6,1814.3 1963.7,1827.8 1973.2,1831.6" fill="none" stroke="#000" stroke-width="1.10" stroke-dasharray="14 3"/>
<path d="M1811.0,1817.3 C1810.3,1823.0 1807.8,1845.8 1807.1,1851.5" fill="none" stroke="#000" stroke-width="1.00" stroke-dasharray="10 3"/>
<path d="M1901.1,1819.3 L1967.8,1835.7 L1944.7,1895.6 L1884.8,1883.3Z" fill="none" stroke="#000" stroke-width="1.10" stroke-dasharray="14 3"/>
<path d="M1935.5,1593.4 C1940.3,1594.7 1954.7,1598.2 1964.5,1601.0 C1974.3,1603.8 1985.2,1607.7 1994.5,1610.0 C2003.8,1612.3 2013.6,1612.3 2020.2,1614.6 C2026.8,1616.9 2023.4,1618.7 2034.0,1623.8 C2044.6,1628.9 2067.7,1636.5 2084.0,1645.2 C2100.3,1653.9 2117.7,1666.3 2131.6,1676.2 C2145.5,1686.1 2157.5,1694.7 2167.4,1704.8 C2177.3,1714.9 2184.7,1726.6 2191.2,1736.9 C2197.7,1747.2 2203.0,1757.8 2206.6,1766.7 C2210.2,1775.6 2211.8,1783.6 2212.6,1790.5 C2213.4,1797.4 2213.0,1802.3 2211.4,1808.3 C2209.8,1814.2 2206.9,1820.9 2203.1,1826.2 C2199.3,1831.5 2193.6,1835.9 2188.8,1840.0 C2184.0,1844.1 2182.1,1847.3 2174.1,1851.0 C2166.1,1854.7 2153.5,1858.8 2141.1,1862.0 C2128.7,1865.2 2115.0,1868.4 2099.9,1870.3 C2084.8,1872.2 2063.1,1873.1 2050.5,1873.6 C2037.9,1874.1 2035.1,1874.1 2024.5,1873.5 C2013.9,1872.9 1993.2,1870.4 1987.0,1869.8" fill="none" stroke="#000" stroke-width="2.75" />
<path d="M2035.2,1625.6 C2041.3,1630.5 2061.0,1645.2 2072.1,1654.8 C2083.2,1664.4 2093.0,1674.6 2101.9,1683.3 C2110.8,1692.0 2117.8,1699.5 2125.7,1707.1 C2133.6,1714.6 2142.6,1722.0 2149.5,1728.6 C2156.4,1735.1 2162.4,1740.1 2167.4,1746.4 C2172.4,1752.8 2176.4,1759.8 2179.3,1766.7 C2182.2,1773.7 2184.0,1782.1 2184.6,1788.1 C2185.2,1794.0 2184.9,1797.4 2182.8,1802.4 C2180.7,1807.4 2178.1,1812.8 2172.1,1817.9 C2166.1,1823.1 2154.2,1829.7 2147.1,1833.3 C2140.0,1836.9 2137.4,1837.3 2129.3,1839.3 C2121.2,1841.3 2107.8,1843.9 2098.3,1845.2 C2088.8,1846.5 2084.4,1846.7 2072.1,1847.0 C2059.8,1847.3 2037.5,1847.8 2024.5,1847.0 C2011.5,1846.2 1999.2,1842.9 1994.1,1842.1" fill="none" stroke="#000" stroke-width="2.75" />
<path d="M1647.9,1472.2 L1717.1,1481.3 L1752.2,1484.0 L1789.5,1507.9 L1791.1,1513.3 L1788.5,1518.0 L1783.1,1518.0 L1773.5,1583.5 L1778.9,1584.6 L1776.7,1596.3 L1743.7,1593.1 L1732.0,1587.8 L1658.5,1580.4 L1637.9,1551.5 L1640.4,1518.2 L1650.3,1516.9 L1642.9,1508.3 L1642.9,1505.2 L1645.3,1499.6Z" fill="#fff" stroke="#000" stroke-width="2.86" />
<path d="M1658.9,1483.5 L1668.8,1494.7 L1753.3,1509.0 L1756.5,1513.3 L1783.1,1518.0" fill="none" stroke="#000" stroke-width="2.64" />
<path d="M1776.7,1519.6 L1767.2,1583.5" fill="none" stroke="#000" stroke-width="2.20" />
<path d="M1717.1,1481.3 L1725.5,1489.0 L1743.5,1496.0 L1754.5,1500.0" fill="none" stroke="#000" stroke-width="1.20" />
<path d="M1752.2,1484.0 L1762.5,1492.0 L1765.5,1504.0" fill="none" stroke="#000" stroke-width="1.00" stroke-dasharray="7 2 1.5 2"/>
<path d="M1658.9,1480.5 L1656.5,1508.3 L1650.3,1516.9" fill="none" stroke="#000" stroke-width="1.98" />
<path d="M1663.8,1521.8 L1755.5,1536.7" fill="none" stroke="#000" stroke-width="2.64" />
<path d="M1670.1,1500.8 L1667.6,1520.6" fill="none" stroke="#000" stroke-width="1.30" stroke-dasharray="7 2 1.5 2"/>
<path d="M1670.7,1500.2 L1710.5,1505.8 L1756.5,1513.0" fill="none" stroke="#000" stroke-width="1.30" stroke-dasharray="7 2 1.5 2"/>
<path d="M1673.8,1492.8 L1710.5,1497.8 L1750.5,1503.0" fill="none" stroke="#000" stroke-width="1.20" stroke-dasharray="7 2 1.5 2"/>
<path d="M1641.6,1517.5 L1653.4,1529.9 L1710.5,1536.1 L1756.5,1541.0" fill="none" stroke="#000" stroke-width="1.98" />
<path d="M1653.4,1529.9 L1649.0,1557.7 L1658.3,1571.9" fill="none" stroke="#000" stroke-width="1.98" />
<path d="M1661.4,1544.1 L1748.0,1552.7" fill="none" stroke="#000" stroke-width="2.64" />
<path d="M1658.3,1571.9 L1748.0,1579.3" fill="none" stroke="#000" stroke-width="2.64" />
<path d="M1663.9,1550.9 L1661.4,1567.6" fill="none" stroke="#000" stroke-width="1.30" stroke-dasharray="7 2 1.5 2"/>
<path d="M1665.1,1550.3 L1710.5,1555.9 L1747.5,1560.0" fill="none" stroke="#000" stroke-width="1.30" stroke-dasharray="7 2 1.5 2"/>
<path d="M1667.6,1542.3 L1710.5,1547.2 L1747.5,1551.0" fill="none" stroke="#000" stroke-width="1.20" stroke-dasharray="7 2 1.5 2"/>
<path d="M1663.9,1528.0 L1710.5,1533.6" fill="none" stroke="#000" stroke-width="1.20" stroke-dasharray="7 2 1.5 2"/>
<path d="M1659.5,1576.2 L1710.5,1581.2 L1745.5,1584.0" fill="none" stroke="#000" stroke-width="1.20" stroke-dasharray="7 2 1.5 2"/>
<path d="M1756.5,1513.3 L1750.1,1580.4" fill="none" stroke="#000" stroke-width="1.30" stroke-dasharray="7 2 1.5 2"/>
<path d="M1743.7,1593.1 L1743.5,1586.0" fill="none" stroke="#000" stroke-width="1.20" />
<path d="M1741.6,1516.4 L1734.1,1516.4 L1733.0,1527.1 L1741.6,1527.1" fill="none" stroke="#000" stroke-width="1.76" />
<path d="M1737.5,1517.0 L1736.5,1527.0" fill="none" stroke="#000" stroke-width="1.40" />
<path d="M1734.1,1562.2 L1726.7,1562.2 L1726.0,1575.0 L1734.1,1575.0" fill="none" stroke="#000" stroke-width="1.76" />
<path d="M1730.5,1563.0 L1729.5,1575.0" fill="none" stroke="#000" stroke-width="1.40" />
<rect x="1649.5" y="1480.0" width="4" height="6.5" fill="none" stroke="#000" stroke-width="1.3"/>
<rect x="1650.0" y="1490.0" width="4" height="6.5" fill="none" stroke="#000" stroke-width="1.3"/>
<rect x="1647.5" y="1500.0" width="4" height="6.5" fill="none" stroke="#000" stroke-width="1.3"/>
<rect x="1643.5" y="1522.0" width="4" height="6.5" fill="none" stroke="#000" stroke-width="1.3"/>
<rect x="1643.0" y="1533.0" width="4" height="6.5" fill="none" stroke="#000" stroke-width="1.3"/>
<rect x="1641.5" y="1543.0" width="4" height="6.5" fill="none" stroke="#000" stroke-width="1.3"/>
<path d="M1653.5,1478.0 L1655.5,1500.0" fill="none" stroke="#000" stroke-width="1.00" />
<path d="M1783.0,1525.7 C1785.3,1526.9 1792.5,1531.7 1796.8,1533.1 C1801.0,1534.5 1805.7,1534.7 1808.5,1534.2 C1811.3,1533.7 1811.3,1530.6 1813.8,1529.9 C1816.3,1529.2 1820.4,1529.2 1823.4,1529.9 C1826.4,1530.6 1829.2,1532.4 1831.9,1534.2 C1834.6,1536.0 1835.0,1539.5 1839.4,1540.6 C1843.9,1541.7 1854.2,1541.1 1858.6,1540.6 C1863.0,1540.1 1862.8,1537.8 1866.0,1537.4 C1869.2,1537.0 1874.2,1537.7 1877.7,1538.4 C1881.2,1539.1 1883.9,1540.8 1887.3,1541.6 C1890.7,1542.4 1893.5,1542.0 1898.0,1543.2 C1902.5,1544.5 1907.8,1547.0 1914.0,1549.1 C1920.2,1551.1 1930.7,1553.4 1935.3,1555.5 C1939.9,1557.6 1940.6,1558.9 1941.7,1561.9 C1942.8,1564.9 1942.8,1569.0 1941.7,1573.6 C1940.6,1578.2 1937.3,1586.2 1935.3,1589.6 C1933.3,1593.0 1933.5,1593.8 1929.9,1593.8 C1926.4,1593.8 1922.0,1592.1 1914.0,1589.6 C1906.0,1587.1 1888.4,1580.9 1882.0,1578.9 C1875.6,1576.9 1878.8,1577.1 1875.6,1577.8 C1872.4,1578.5 1867.0,1582.3 1862.8,1583.2 C1858.5,1584.1 1854.7,1583.7 1850.1,1583.2 C1845.5,1582.7 1838.8,1580.0 1835.1,1580.0 C1831.4,1580.0 1829.8,1581.8 1827.7,1583.2 C1825.6,1584.6 1824.7,1587.8 1822.4,1588.5 C1820.1,1589.2 1816.1,1588.3 1813.8,1587.4 C1811.5,1586.5 1811.3,1584.1 1808.5,1583.2 C1805.7,1582.3 1801.1,1581.9 1796.8,1582.1 C1792.5,1582.3 1784.9,1583.8 1782.5,1584.2" fill="#fff" stroke="#000" stroke-width="2.53" />
<path d="M1806.4,1557.6 C1806.8,1555.7 1807.6,1549.2 1808.5,1546.0 C1809.4,1542.8 1811.2,1539.7 1811.7,1538.4" fill="none" stroke="#000" stroke-width="1.20" />
<path d="M1826.6,1541.6 C1827.1,1543.0 1828.8,1546.6 1829.5,1550.0 C1830.2,1553.4 1830.7,1559.9 1830.9,1561.9" fill="none" stroke="#000" stroke-width="1.20" />
<path d="M1834.1,1538.4 C1835.5,1540.5 1839.8,1546.4 1842.5,1551.0 C1845.2,1555.6 1848.8,1563.6 1850.1,1566.1" fill="none" stroke="#000" stroke-width="2.20" />
<path d="M1863.9,1540.6 C1865.0,1541.7 1868.7,1544.5 1870.5,1547.0 C1872.3,1549.5 1873.8,1554.1 1874.5,1555.5" fill="none" stroke="#000" stroke-width="1.20" />
<path d="M1869.2,1539.5 C1870.4,1541.2 1874.7,1545.9 1876.5,1550.0 C1878.3,1554.1 1879.3,1561.7 1879.9,1564.0" fill="none" stroke="#000" stroke-width="1.40" />
<path d="M1882.0,1541.6 C1882.9,1543.5 1886.1,1548.5 1887.5,1553.0 C1888.9,1557.5 1890.0,1565.8 1890.5,1568.3" fill="none" stroke="#000" stroke-width="2.20" />
<path d="M1878.8,1569.3 C1878.2,1570.1 1876.7,1572.6 1875.5,1574.0 C1874.3,1575.4 1872.1,1577.2 1871.4,1577.8" fill="none" stroke="#000" stroke-width="1.20" />
<path d="M1853.3,1572.5 C1854.7,1571.9 1858.8,1569.9 1861.5,1569.0 C1864.2,1568.1 1867.9,1567.5 1869.2,1567.2" fill="none" stroke="#000" stroke-width="1.20" />
<path d="M1898.5,1546.0 C1899.7,1547.2 1899.8,1551.4 1905.5,1553.0 C1911.2,1554.6 1928.0,1555.1 1932.5,1555.5" fill="none" stroke="#000" stroke-width="1.00" />
<path d="M1829.8,1573.5 L1829.8,1583.0" fill="none" stroke="#000" stroke-width="1.76" />
<path d="M1851.1,1574.6 L1851.1,1582.0" fill="none" stroke="#000" stroke-width="1.76" />
<path d="M1941.5,1562.0 C1946.3,1562.8 1960.7,1564.7 1970.5,1567.0 C1980.3,1569.3 1991.7,1572.7 2000.5,1576.0 C2009.3,1579.3 2017.9,1583.2 2023.5,1587.0 C2029.1,1590.8 2032.3,1594.4 2034.3,1598.6 C2036.3,1602.8 2035.7,1607.7 2035.5,1612.0 C2035.3,1616.3 2035.4,1619.2 2033.0,1624.6 C2030.6,1629.9 2026.5,1638.9 2021.2,1644.1 C2016.0,1649.3 2008.6,1652.5 2001.5,1656.0 C1994.4,1659.5 1986.1,1662.6 1978.5,1665.0 C1970.9,1667.4 1959.8,1669.3 1956.1,1670.2" fill="none" stroke="#000" stroke-width="1.98" />
<path d="M1941.5,1566.0 C1946.3,1567.0 1961.2,1569.7 1970.5,1572.0 C1979.8,1574.3 1989.7,1576.7 1997.5,1580.0 C2005.3,1583.3 2012.8,1587.7 2017.5,1592.0 C2022.2,1596.3 2024.5,1601.0 2025.5,1606.0 C2026.5,1611.0 2025.5,1616.3 2023.5,1622.0 C2021.5,1627.7 2018.2,1634.8 2013.5,1640.0 C2008.8,1645.2 2002.2,1649.2 1995.5,1653.0 C1988.8,1656.8 1980.5,1660.5 1973.5,1663.0 C1966.5,1665.5 1956.8,1667.2 1953.5,1668.0" fill="none" stroke="#000" stroke-width="1.65" />
<path d="M1941.5,1570.0 C1946.8,1571.3 1964.8,1575.2 1973.5,1578.0 C1982.2,1580.8 1987.5,1583.7 1993.5,1587.0 C1999.5,1590.3 2005.7,1593.8 2009.5,1598.0 C2013.3,1602.2 2015.7,1607.0 2016.5,1612.0 C2017.3,1617.0 2016.5,1622.5 2014.5,1628.0 C2012.5,1633.5 2009.3,1639.0 2004.5,1645.0 C1999.7,1651.0 1992.8,1657.5 1985.5,1664.0 C1978.2,1670.5 1968.2,1678.0 1960.5,1684.0 C1952.8,1690.0 1942.8,1697.4 1939.2,1700.1" fill="none" stroke="#000" stroke-width="1.65" />
<path d="M1879.8,1698.7 L1912.8,1664.6 L1933.0,1666.2 L1936.7,1661.9 L1949.0,1662.5 L1952.2,1668.3 L1955.4,1676.3 L1955.4,1681.6 L1918.1,1717.8 L1912.8,1718.9 L1906.4,1717.8 L1900.5,1711.4 L1886.1,1709.8 L1881.9,1706.1Z" fill="#fff" stroke="#000" stroke-width="2.53" />
<path d="M1880.5,1698.7 L1912.8,1665.0 L1917.0,1677.4 L1893.1,1702.9 L1886.1,1709.3Z" fill="#777" stroke="#000" stroke-width="1.6"/>
<path d="M1884.5,1700.0 L1911.5,1671.0" fill="none" stroke="#000" stroke-width="1.00" />
<path d="M1888.5,1703.0 L1914.5,1675.0" fill="none" stroke="#000" stroke-width="1.00" />
<path d="M1917.0,1677.4 L1933.0,1667.0 L1937.0,1675.0 L1950.5,1676.0" fill="none" stroke="#000" stroke-width="1.10" />
<path d="M1936.7,1661.9 L1941.5,1672.0 L1953.5,1671.0" fill="none" stroke="#000" stroke-width="1.10" />
<rect x="1940.5" y="1665.5" width="6" height="5" fill="none" stroke="#000" stroke-width="1.4"/>
<path d="M1913.8,1684.8 L1926.6,1686.4" fill="none" stroke="#000" stroke-width="2.42" />
<path d="M1904.3,1693.3 L1918.6,1694.9" fill="none" stroke="#000" stroke-width="2.42" />
<path d="M1895.2,1702.9 L1910.1,1704.0" fill="none" stroke="#000" stroke-width="2.42" />
<path d="M1950.5,1686.0 L1918.5,1716.0" fill="none" stroke="#000" stroke-width="1.00" />
<path d="M1931.5,1682.0 L1906.5,1710.0" fill="none" stroke="#000" stroke-width="0.80" stroke-dasharray="3 3"/>
<path d="M366.0,2499.0 L387.1,2486.2 L397.2,2482.5 L400.0,2479.0 L402.7,2477.0 L422.0,2466.7 L425.2,2467.8 L491.7,2505.0 L501.8,2503.2 L502.2,2505.3" fill="none" stroke="#000" stroke-width="2.64" />
<path d="M366.0,2499.0 C365.5,2499.6 363.5,2500.9 363.1,2502.7 C362.7,2504.5 362.0,2507.4 363.7,2510.0 C365.4,2512.6 367.2,2514.6 373.3,2518.3 C379.5,2522.0 391.4,2527.6 400.9,2532.1 C410.4,2536.5 424.6,2543.0 430.2,2544.9 C435.9,2546.8 432.1,2544.9 434.8,2543.5 C437.6,2542.2 440.2,2540.4 446.7,2536.7 C453.3,2532.9 465.0,2526.3 474.3,2521.1 C483.5,2515.8 497.6,2507.9 502.2,2505.3" fill="none" stroke="#000" stroke-width="2.64" />
<path d="M367.8,2500.9 C367.5,2501.8 365.1,2504.2 366.0,2506.4 C366.9,2508.5 367.5,2510.2 373.3,2513.7 C379.2,2517.2 390.9,2523.0 400.9,2527.5 C410.8,2531.9 426.9,2538.3 433.0,2540.3 C439.1,2542.3 432.2,2542.0 437.6,2539.4 C442.9,2536.8 454.7,2530.3 465.1,2524.7 C475.5,2519.1 494.1,2509.1 500.0,2505.9" fill="none" stroke="#000" stroke-width="1.20" />
<path d="M368.8,2500.0 C374.1,2503.0 389.7,2512.0 400.9,2518.3 C412.0,2524.6 425.8,2537.0 435.7,2538.0 C445.7,2539.1 451.2,2530.0 460.5,2524.7 C469.8,2519.4 486.5,2509.4 491.7,2506.4" fill="none" stroke="#000" stroke-width="1.98" />
<path d="M405.5,2500.9 C406.5,2499.6 409.6,2495.5 411.9,2493.5 C414.2,2491.5 416.8,2490.0 419.2,2488.9 C421.7,2487.9 424.4,2487.3 426.6,2487.1 C428.7,2486.9 430.8,2486.8 432.1,2487.6 C433.3,2488.3 433.6,2491.0 433.9,2491.7" fill="none" stroke="#000" stroke-width="2.20" />
<path d="M405.5,2500.9 L413.7,2506.4 L424.7,2511.0 L435.7,2519.2 L441.2,2521.1" fill="none" stroke="#000" stroke-width="2.20" />
<path d="M432.1,2487.6 L446.7,2501.8 L455.9,2500.0 L461.9,2508.2 L459.6,2513.7 L452.2,2519.2 L443.1,2521.1" fill="none" stroke="#000" stroke-width="1.98" />
<path d="M413.7,2500.9 L419.2,2493.5 L428.4,2491.7" fill="none" stroke="#000" stroke-width="1.76" />
<path d="M426.6,2492.6 L445.8,2502.7 L433.0,2510.0 L424.7,2511.0" fill="none" stroke="#000" stroke-width="1.76" />
<path d="M424.7,2511.0 L432.1,2509.1 L435.7,2519.2" fill="none" stroke="#000" stroke-width="1.76" />
<path d="M415.6,2506.4 C417.1,2505.5 421.4,2502.1 424.7,2500.9 C428.1,2499.6 433.9,2499.3 435.7,2499.0" fill="none" stroke="#000" stroke-width="1.00" stroke-dasharray="8 6"/>
<g transform="matrix(-1,0,0,1,1112,0)">
<path d="M366.0,2499.0 L387.1,2486.2 L397.2,2482.5 L400.0,2479.0 L402.7,2477.0 L422.0,2466.7 L425.2,2467.8 L491.7,2505.0 L501.8,2503.2 L502.2,2505.3" fill="none" stroke="#000" stroke-width="2.64" />
<path d="M366.0,2499.0 C365.5,2499.6 363.5,2500.9 363.1,2502.7 C362.7,2504.5 362.0,2507.4 363.7,2510.0 C365.4,2512.6 367.2,2514.6 373.3,2518.3 C379.5,2522.0 391.4,2527.6 400.9,2532.1 C410.4,2536.5 424.6,2543.0 430.2,2544.9 C435.9,2546.8 432.1,2544.9 434.8,2543.5 C437.6,2542.2 440.2,2540.4 446.7,2536.7 C453.3,2532.9 465.0,2526.3 474.3,2521.1 C483.5,2515.8 497.6,2507.9 502.2,2505.3" fill="none" stroke="#000" stroke-width="2.64" />
<path d="M367.8,2500.9 C367.5,2501.8 365.1,2504.2 366.0,2506.4 C366.9,2508.5 367.5,2510.2 373.3,2513.7 C379.2,2517.2 390.9,2523.0 400.9,2527.5 C410.8,2531.9 426.9,2538.3 433.0,2540.3 C439.1,2542.3 432.2,2542.0 437.6,2539.4 C442.9,2536.8 454.7,2530.3 465.1,2524.7 C475.5,2519.1 494.1,2509.1 500.0,2505.9" fill="none" stroke="#000" stroke-width="1.20" />
<path d="M368.8,2500.0 C374.1,2503.0 389.7,2512.0 400.9,2518.3 C412.0,2524.6 425.8,2537.0 435.7,2538.0 C445.7,2539.1 451.2,2530.0 460.5,2524.7 C469.8,2519.4 486.5,2509.4 491.7,2506.4" fill="none" stroke="#000" stroke-width="1.98" />
<path d="M405.5,2500.9 C406.5,2499.6 409.6,2495.5 411.9,2493.5 C414.2,2491.5 416.8,2490.0 419.2,2488.9 C421.7,2487.9 424.4,2487.3 426.6,2487.1 C428.7,2486.9 430.8,2486.8 432.1,2487.6 C433.3,2488.3 433.6,2491.0 433.9,2491.7" fill="none" stroke="#000" stroke-width="2.20" />
<path d="M405.5,2500.9 L413.7,2506.4 L424.7,2511.0 L435.7,2519.2 L441.2,2521.1" fill="none" stroke="#000" stroke-width="2.20" />
<path d="M432.1,2487.6 L446.7,2501.8 L455.9,2500.0 L461.9,2508.2 L459.6,2513.7 L452.2,2519.2 L443.1,2521.1" fill="none" stroke="#000" stroke-width="1.98" />
<path d="M413.7,2500.9 L419.2,2493.5 L428.4,2491.7" fill="none" stroke="#000" stroke-width="1.76" />
<path d="M426.6,2492.6 L445.8,2502.7 L433.0,2510.0 L424.7,2511.0" fill="none" stroke="#000" stroke-width="1.76" />
<path d="M424.7,2511.0 L432.1,2509.1 L435.7,2519.2" fill="none" stroke="#000" stroke-width="1.76" />
<path d="M415.6,2506.4 C417.1,2505.5 421.4,2502.1 424.7,2500.9 C428.1,2499.6 433.9,2499.3 435.7,2499.0" fill="none" stroke="#000" stroke-width="1.00" stroke-dasharray="8 6"/>
</g>
<path d="M250.8,2504.9 L353.3,2504.9" fill="none" stroke="#000" stroke-width="2.86" />
<text font-family="Liberation Sans" font-weight="bold" font-size="2048" fill="#000" stroke="#000" stroke-width="97.3" stroke-linejoin="round" filter="url(#nolcd)" transform="matrix(0.018414,0,0,0.018595,182.13,2519.10)">4</text>
<text font-family="Liberation Sans" font-weight="bold" font-size="2048" fill="#000" stroke="#000" stroke-width="104.2" stroke-linejoin="round" filter="url(#nolcd)" transform="matrix(0.016055,0,0,0.018595,209.43,2519.10)">1</text>
<text font-family="Liberation Sans" font-weight="bold" font-size="2048" fill="#000" stroke="#000" stroke-width="96.1" stroke-linejoin="round" filter="url(#nolcd)" transform="matrix(0.018497,0,0,0.018966,232.80,2519.22)">8</text>
<path d="M754.9,2504.9 L838.8,2504.9" fill="none" stroke="#000" stroke-width="2.86" />
<text font-family="Liberation Sans" font-weight="bold" font-size="2048" fill="#000" stroke="#000" stroke-width="97.3" stroke-linejoin="round" filter="url(#nolcd)" transform="matrix(0.018414,0,0,0.018595,845.93,2519.10)">4</text>
<text font-family="Liberation Sans" font-weight="bold" font-size="2048" fill="#000" stroke="#000" stroke-width="104.2" stroke-linejoin="round" filter="url(#nolcd)" transform="matrix(0.016055,0,0,0.018595,873.23,2519.10)">1</text>
<text font-family="Liberation Sans" font-weight="bold" font-size="2048" fill="#000" stroke="#000" stroke-width="94.4" stroke-linejoin="round" filter="url(#nolcd)" transform="matrix(0.019153,0,0,0.018966,896.44,2519.22)">9</text>
<path d="M1015.7,2156 A116.3,36 0 0 1 1248.3,2156" fill="none" stroke="#000" stroke-width="2.86" />
<path d="M1015.7,2156 L1015.2,2311 M1248.3,2156 L1248.3,2313" fill="none" stroke="#000" stroke-width="2.64" />
<path d="M1016.5,2157.0 C1021.6,2159.1 1036.3,2165.9 1047.0,2169.6 C1057.7,2173.3 1075.2,2177.4 1080.8,2179.0" fill="none" stroke="#000" stroke-width="1.30" />
<path d="M1133.3,2182.1 C1139.7,2182.0 1165.3,2181.5 1171.7,2181.4" fill="none" stroke="#000" stroke-width="1.30" />
<path d="M1198.4,2178.2 C1200.2,2177.9 1207.5,2176.9 1209.3,2176.6" fill="none" stroke="#000" stroke-width="1.30" />
<path d="M1233.6,2170.4 C1236.0,2168.9 1245.4,2163.1 1247.8,2161.7" fill="none" stroke="#000" stroke-width="1.30" />
<ellipse cx="1133.3" cy="2147.7" rx="48.6" ry="18" fill="none" stroke="#000" stroke-width="1.8"/>
<ellipse cx="1133.7" cy="2147.6" rx="45" ry="14.1" fill="none" stroke="#000" stroke-width="1.5"/>
<ellipse cx="1132.9" cy="2148" rx="6.5" ry="2.8" fill="none" stroke="#000" stroke-width="1.6"/>
<path d="M1015,2310.5 A116.5,35.5 0 0 0 1248,2313.5" fill="none" stroke="#000" stroke-width="3.08" />
<path d="M1018.0,2318.0 C1019.5,2319.5 1025.5,2325.5 1027.0,2327.0" fill="none" stroke="#000" stroke-width="1.20" />
<path d="M1037.6,2335.8 C1041.0,2337.1 1054.6,2342.4 1058.0,2343.7" fill="none" stroke="#000" stroke-width="1.20" />
<path d="M1072.1,2346.0 C1078.9,2347.1 1106.1,2351.2 1112.9,2352.3" fill="none" stroke="#000" stroke-width="1.20" />
<path d="M1119.0,2352.5 C1125.3,2352.5 1150.5,2352.3 1156.8,2352.3" fill="none" stroke="#000" stroke-width="1.20" />
<path d="M1177.0,2349.0 C1181.5,2348.3 1199.5,2345.7 1204.0,2345.0" fill="none" stroke="#000" stroke-width="1.20" />
<path d="M1227.0,2335.8 C1229.9,2334.2 1241.7,2328.0 1244.6,2326.4" fill="none" stroke="#000" stroke-width="1.20" />
<path d="M1015.8,2318 L1015.7,2683 A115.6,40 0 0 0 1247,2677 L1247.3,2318" fill="none" stroke="#000" stroke-width="2.64" />
<text font-family="Liberation Sans" font-weight="bold" font-size="2048" fill="#1c1c1c" stroke="#1c1c1c" stroke-width="36.2" stroke-linejoin="round" filter="url(#nolcd)" transform="matrix(0.020564,0,0,0.053371,1026.03,2493.80)">T</text>
<text font-family="Liberation Sans" font-weight="bold" font-size="2048" fill="#1c1c1c" stroke="#1c1c1c" stroke-width="37.0" stroke-linejoin="round" filter="url(#nolcd)" transform="matrix(0.021540,0,0,0.048752,1048.88,2501.22)">o</text>
<text font-family="Liberation Sans" font-weight="bold" font-size="2048" fill="#1c1c1c" stroke="#1c1c1c" stroke-width="35.1" stroke-linejoin="round" filter="url(#nolcd)" transform="matrix(0.023155,0,0,0.050363,1076.86,2507.09)">u</text>
<text font-family="Liberation Sans" font-weight="bold" font-size="2048" fill="#1c1c1c" stroke="#1c1c1c" stroke-width="39.6" stroke-linejoin="round" filter="url(#nolcd)" transform="matrix(0.019019,0,0,0.048217,1106.28,2509.04)">c</text>
<text font-family="Liberation Sans" font-weight="bold" font-size="2048" fill="#1c1c1c" stroke="#1c1c1c" stroke-width="35.7" stroke-linejoin="round" filter="url(#nolcd)" transform="matrix(0.022018,0,0,0.051415,1128.75,2509.40)">h</text>
<text font-family="Liberation Sans" font-weight="bold" font-size="2048" fill="#1c1c1c" stroke="#1c1c1c" stroke-width="38.4" stroke-linejoin="round" filter="url(#nolcd)" transform="matrix(0.024038,0,0,0.040574,1156.68,2500.59)">-</text>
<text font-family="Liberation Sans" font-weight="bold" font-size="2048" fill="#1c1c1c" stroke="#1c1c1c" stroke-width="35.7" stroke-linejoin="round" filter="url(#nolcd)" transform="matrix(0.021690,0,0,0.051994,1173.53,2504.46)">U</text>
<text font-family="Liberation Sans" font-weight="bold" font-size="2048" fill="#1c1c1c" stroke="#1c1c1c" stroke-width="34.1" stroke-linejoin="round" filter="url(#nolcd)" transform="matrix(0.024031,0,0,0.051503,1206.16,2499.21)">p</text>
<text font-family="Liberation Sans" font-weight="bold" font-size="2048" fill="#1c1c1c" stroke="#1c1c1c" stroke-width="36.8" stroke-linejoin="round" filter="url(#nolcd)" transform="matrix(0.020880,0,0,0.050887,1073.74,2606.40)">P</text>
<text font-family="Liberation Sans" font-weight="bold" font-size="2048" fill="#1c1c1c" stroke="#1c1c1c" stroke-width="39.9" stroke-linejoin="round" filter="url(#nolcd)" transform="matrix(0.018498,0,0,0.048841,1102.19,2610.62)">a</text>
<text font-family="Liberation Sans" font-weight="bold" font-size="2048" fill="#1c1c1c" stroke="#1c1c1c" stroke-width="33.0" stroke-linejoin="round" filter="url(#nolcd)" transform="matrix(0.025979,0,0,0.050943,1126.89,2610.30)">i</text>
<text font-family="Liberation Sans" font-weight="bold" font-size="2048" fill="#1c1c1c" stroke="#1c1c1c" stroke-width="36.8" stroke-linejoin="round" filter="url(#nolcd)" transform="matrix(0.022447,0,0,0.047325,1141.87,2610.30)">n</text>
<text font-family="Liberation Sans" font-weight="bold" font-size="2048" fill="#1c1c1c" stroke="#1c1c1c" stroke-width="33.3" stroke-linejoin="round" filter="url(#nolcd)" transform="matrix(0.025949,0,0,0.050074,1169.65,2607.40)">t</text>
<path d="M907,2279.6 L1010,2279.6" fill="none" stroke="#000" stroke-width="2.42" />
<text font-family="Liberation Sans" font-weight="bold" font-size="2048" fill="#000" stroke="#000" stroke-width="97.3" stroke-linejoin="round" filter="url(#nolcd)" transform="matrix(0.018414,0,0,0.018595,837.23,2293.90)">4</text>
<text font-family="Liberation Sans" font-weight="bold" font-size="2048" fill="#000" stroke="#000" stroke-width="104.2" stroke-linejoin="round" filter="url(#nolcd)" transform="matrix(0.016055,0,0,0.018595,864.53,2293.90)">1</text>
<text font-family="Liberation Sans" font-weight="bold" font-size="2048" fill="#000" stroke="#000" stroke-width="95.1" stroke-linejoin="round" filter="url(#nolcd)" transform="matrix(0.019251,0,0,0.018595,887.91,2293.90)">7</text>
<path d="M1625.8,2546.1 C1629.5,2544.5 1638.2,2539.6 1647.7,2536.5 C1657.2,2533.4 1669.6,2529.5 1682.7,2527.7 C1695.8,2525.9 1711.9,2525.6 1726.5,2525.6 C1741.1,2525.6 1757.2,2527.1 1770.3,2527.7 C1783.4,2528.3 1797.3,2529.4 1805.3,2529.1 C1813.3,2528.8 1815.7,2528.8 1818.5,2525.6 C1821.3,2522.4 1822.4,2515.3 1822.0,2510.2 C1821.6,2505.1 1819.1,2497.8 1816.3,2494.9 C1813.5,2492.0 1813.0,2493.1 1805.3,2492.7 C1797.6,2492.3 1782.0,2492.7 1770.3,2492.7 C1758.6,2492.7 1743.3,2493.4 1735.3,2492.7 C1727.3,2492.0 1727.9,2490.2 1722.1,2488.3 C1716.2,2486.4 1709.7,2482.6 1700.2,2481.3 C1690.7,2480.0 1675.2,2480.6 1665.2,2480.5 C1655.2,2480.4 1644.2,2480.9 1640.0,2481.0" fill="#fff" stroke="#000" stroke-width="2.64" />
<path d="M1634.6,2508.0 C1645.5,2507.6 1678.8,2506.0 1700.0,2505.5 C1721.2,2505.0 1751.2,2505.1 1761.5,2505.0" fill="none" stroke="#000" stroke-width="1.00" stroke-dasharray="16 3"/>
<g transform="matrix(1.27887,-0.0488,-0.0309,1.24616,1222.3,616.8)" class="ns">
<path d="M222.4,1472.2 L291.6,1481.3 L326.7,1484.0 L364.0,1507.9 L365.6,1513.3 L363.0,1518.0 L357.6,1518.0 L348.0,1583.5 L353.4,1584.6 L351.2,1596.3 L318.2,1593.1 L306.5,1587.8 L233.0,1580.4 L212.4,1551.5 L214.9,1518.2 L224.8,1516.9 L217.4,1508.3 L217.4,1505.2 L219.8,1499.6Z" fill="#fff" stroke="#000" stroke-width="2.86" />
<path d="M233.4,1483.5 L243.3,1494.7 L327.8,1509.0 L331.0,1513.3 L357.6,1518.0" fill="none" stroke="#000" stroke-width="2.64" />
<path d="M351.2,1519.6 L341.7,1583.5" fill="none" stroke="#000" stroke-width="2.20" />
<path d="M291.6,1481.3 L300.0,1489.0 L318.0,1496.0 L329.0,1500.0" fill="none" stroke="#000" stroke-width="1.20" />
<path d="M326.7,1484.0 L337.0,1492.0 L340.0,1504.0" fill="none" stroke="#000" stroke-width="1.00" stroke-dasharray="7 2 1.5 2"/>
<path d="M233.4,1480.5 L231.0,1508.3 L224.8,1516.9" fill="none" stroke="#000" stroke-width="1.98" />
<path d="M238.3,1521.8 L330.0,1536.7" fill="none" stroke="#000" stroke-width="2.64" />
<path d="M244.6,1500.8 L242.1,1520.6" fill="none" stroke="#000" stroke-width="1.30" stroke-dasharray="7 2 1.5 2"/>
<path d="M245.2,1500.2 L285.0,1505.8 L331.0,1513.0" fill="none" stroke="#000" stroke-width="1.30" stroke-dasharray="7 2 1.5 2"/>
<path d="M248.3,1492.8 L285.0,1497.8 L325.0,1503.0" fill="none" stroke="#000" stroke-width="1.20" stroke-dasharray="7 2 1.5 2"/>
<path d="M216.1,1517.5 L227.9,1529.9 L285.0,1536.1 L331.0,1541.0" fill="none" stroke="#000" stroke-width="1.98" />
<path d="M227.9,1529.9 L223.5,1557.7 L232.8,1571.9" fill="none" stroke="#000" stroke-width="1.98" />
<path d="M235.9,1544.1 L322.5,1552.7" fill="none" stroke="#000" stroke-width="2.64" />
<path d="M232.8,1571.9 L322.5,1579.3" fill="none" stroke="#000" stroke-width="2.64" />
<path d="M238.4,1550.9 L235.9,1567.6" fill="none" stroke="#000" stroke-width="1.30" stroke-dasharray="7 2 1.5 2"/>
<path d="M239.6,1550.3 L285.0,1555.9 L322.0,1560.0" fill="none" stroke="#000" stroke-width="1.30" stroke-dasharray="7 2 1.5 2"/>
<path d="M242.1,1542.3 L285.0,1547.2 L322.0,1551.0" fill="none" stroke="#000" stroke-width="1.20" stroke-dasharray="7 2 1.5 2"/>
<path d="M238.4,1528.0 L285.0,1533.6" fill="none" stroke="#000" stroke-width="1.20" stroke-dasharray="7 2 1.5 2"/>
<path d="M234.0,1576.2 L285.0,1581.2 L320.0,1584.0" fill="none" stroke="#000" stroke-width="1.20" stroke-dasharray="7 2 1.5 2"/>
<path d="M331.0,1513.3 L324.6,1580.4" fill="none" stroke="#000" stroke-width="1.30" stroke-dasharray="7 2 1.5 2"/>
<path d="M318.2,1593.1 L318.0,1586.0" fill="none" stroke="#000" stroke-width="1.20" />
<path d="M316.1,1516.4 L308.6,1516.4 L307.5,1527.1 L316.1,1527.1" fill="none" stroke="#000" stroke-width="1.76" />
<path d="M312.0,1517.0 L311.0,1527.0" fill="none" stroke="#000" stroke-width="1.40" />
<path d="M308.6,1562.2 L301.2,1562.2 L300.5,1575.0 L308.6,1575.0" fill="none" stroke="#000" stroke-width="1.76" />
<path d="M305.0,1563.0 L304.0,1575.0" fill="none" stroke="#000" stroke-width="1.40" />
<rect x="224.0" y="1480.0" width="4" height="6.5" fill="none" stroke="#000" stroke-width="1.3"/>
<rect x="224.5" y="1490.0" width="4" height="6.5" fill="none" stroke="#000" stroke-width="1.3"/>
<rect x="222.0" y="1500.0" width="4" height="6.5" fill="none" stroke="#000" stroke-width="1.3"/>
<rect x="218.0" y="1522.0" width="4" height="6.5" fill="none" stroke="#000" stroke-width="1.3"/>
<rect x="217.5" y="1533.0" width="4" height="6.5" fill="none" stroke="#000" stroke-width="1.3"/>
<rect x="216.0" y="1543.0" width="4" height="6.5" fill="none" stroke="#000" stroke-width="1.3"/>
<path d="M228.0,1478.0 L230.0,1500.0" fill="none" stroke="#000" stroke-width="1.00" />
</g>
<path d="M1822.0,2497.6 Q1946.5,2513.2 2070.9,2525.9" fill="none" stroke="#000" stroke-width="2.42" />
<path d="M1823.9,2506.4 Q1947.4,2523.8 2070.9,2538.2" fill="none" stroke="#000" stroke-width="2.42" />
<path d="M1823.9,2516.1 Q1946.9,2535.2 2069.9,2551.3" fill="none" stroke="#000" stroke-width="2.42" />
<path d="M1822.0,2526.9 Q1944.5,2546.9 2067.0,2564.0" fill="none" stroke="#000" stroke-width="2.42" />
<path d="M2070.9,2525.9 L2088.5,2527.7 L2088.5,2540.0 L2070.9,2538.2Z" fill="#555" stroke="#000" stroke-width="1.6"/>
<path d="M2088.5,2526.9 L2133,2529.4 A7.8,7.8 0 0 1 2133,2543.5 L2088.5,2542.5Z" fill="#fff" stroke="#000" stroke-width="2.42" />
<path d="M2070.9,2538.2 L2088.5,2540.0 L2088.5,2553.1 L2069.9,2551.3Z" fill="#555" stroke="#000" stroke-width="1.6"/>
<path d="M2088.5,2543.5 L2133,2546.0 A7.5,7.5 0 0 1 2133,2559.5 L2088.5,2558.5Z" fill="#fff" stroke="#000" stroke-width="2.42" />
<path d="M2069.9,2551.3 L2088.5,2553.1 L2088.5,2565.8 L2067.0,2564.0Z" fill="#555" stroke="#000" stroke-width="1.6"/>
<path d="M2088.5,2557.5 L2133,2560.0 A7.2,7.2 0 0 1 2133,2573.0 L2088.5,2572.0Z" fill="#fff" stroke="#000" stroke-width="2.42" />
<path d="M1760.7,2370.1 L1728.7,2483.1" fill="none" stroke="#000" stroke-width="2.64" />
<text font-family="Liberation Sans" font-weight="bold" font-size="2048" fill="#000" stroke="#000" stroke-width="97.3" stroke-linejoin="round" filter="url(#nolcd)" transform="matrix(0.018414,0,0,0.018595,1740.13,2275.10)">4</text>
<text font-family="Liberation Sans" font-weight="bold" font-size="2048" fill="#000" stroke="#000" stroke-width="92.6" stroke-linejoin="round" filter="url(#nolcd)" transform="matrix(0.019918,0,0,0.018966,1764.39,2275.22)">0</text>
<text font-family="Liberation Sans" font-weight="bold" font-size="2048" fill="#000" stroke="#000" stroke-width="98.0" stroke-linejoin="round" filter="url(#nolcd)" transform="matrix(0.018057,0,0,0.018684,1790.96,2275.23)">5</text>
<text font-family="Liberation Sans" font-weight="bold" font-size="2048" fill="#000" stroke="#000" stroke-width="97.3" stroke-linejoin="round" filter="url(#nolcd)" transform="matrix(0.018414,0,0,0.018595,1740.13,2317.00)">4</text>
<text font-family="Liberation Sans" font-weight="bold" font-size="2048" fill="#000" stroke="#000" stroke-width="92.6" stroke-linejoin="round" filter="url(#nolcd)" transform="matrix(0.019918,0,0,0.018966,1764.39,2317.12)">0</text>
<text font-family="Liberation Sans" font-weight="bold" font-size="2048" fill="#000" stroke="#000" stroke-width="95.1" stroke-linejoin="round" filter="url(#nolcd)" transform="matrix(0.018889,0,0,0.018966,1790.68,2317.12)">6</text>
<text font-family="Liberation Sans" font-weight="bold" font-size="2048" fill="#000" stroke="#000" stroke-width="97.3" stroke-linejoin="round" filter="url(#nolcd)" transform="matrix(0.018414,0,0,0.018595,1740.13,2359.90)">4</text>
<text font-family="Liberation Sans" font-weight="bold" font-size="2048" fill="#000" stroke="#000" stroke-width="92.6" stroke-linejoin="round" filter="url(#nolcd)" transform="matrix(0.019918,0,0,0.018966,1764.39,2360.02)">0</text>
<text font-family="Liberation Sans" font-weight="bold" font-size="2048" fill="#000" stroke="#000" stroke-width="95.1" stroke-linejoin="round" filter="url(#nolcd)" transform="matrix(0.019251,0,0,0.018595,1790.81,2359.90)">7</text>
<text font-family="Liberation Sans" font-weight="bold" font-size="2048" fill="#151515" style="font-kerning:none;white-space:pre" filter="url(#nolcd)" transform="matrix(0.018785,0,0,0.016324,1995.68,2753.00)">(ART NO. WJ2159 C9)</text>
</svg></body></html>
